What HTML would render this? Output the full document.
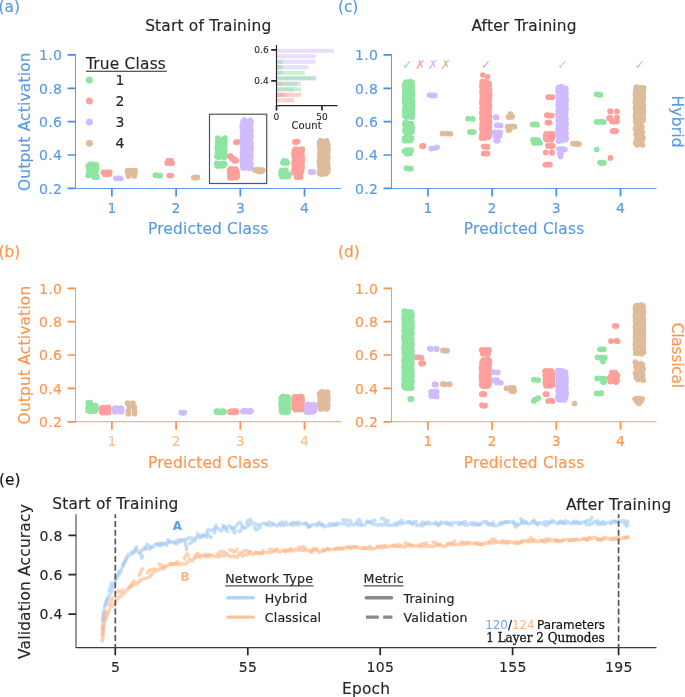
<!DOCTYPE html><html><head><meta charset="utf-8"><title>Figure</title><style>html,body{margin:0;padding:0;background:#fff}svg{display:block}text{font-family:'DejaVu Sans', 'Liberation Sans', sans-serif}</style></head><body>
<svg width="685" height="697" viewBox="0 0 685 697">
<rect width="685" height="697" fill="#fff"/>
<g stroke="#4A90E2" fill="none">
<path d="M75.5 54.3V188.4H341" stroke-width="1.05" stroke="#5E9DE7"/>
<path d="M67.5 54.9H75.5M67.5 88.3H75.5M67.5 121.6H75.5M67.5 155H75.5M67.5 188.4H75.5M111.9 188.4V196.4M176.1 188.4V196.4M240.3 188.4V196.4M304.5 188.4V196.4" stroke-width="1.7"/>
</g>
<text x="62.2" y="60.1" font-size="14" fill="#5899E6" stroke="#5899E6" stroke-width="0.14" letter-spacing="0.3" text-anchor="end" >1.0</text>
<text x="62.2" y="93.5" font-size="14" fill="#5899E6" stroke="#5899E6" stroke-width="0.14" letter-spacing="0.3" text-anchor="end" >0.8</text>
<text x="62.2" y="126.8" font-size="14" fill="#5899E6" stroke="#5899E6" stroke-width="0.14" letter-spacing="0.3" text-anchor="end" >0.6</text>
<text x="62.2" y="160.2" font-size="14" fill="#5899E6" stroke="#5899E6" stroke-width="0.14" letter-spacing="0.3" text-anchor="end" >0.4</text>
<text x="62.2" y="193.6" font-size="14" fill="#5899E6" stroke="#5899E6" stroke-width="0.14" letter-spacing="0.3" text-anchor="end" >0.2</text>
<g opacity="1">
<text x="112.1" y="212.5" font-size="14" fill="#5899E6" stroke="#5899E6" stroke-width="0.14" letter-spacing="0.3" text-anchor="middle" >1</text>
<text x="176.2" y="212.5" font-size="14" fill="#5899E6" stroke="#5899E6" stroke-width="0.14" letter-spacing="0.3" text-anchor="middle" >2</text>
<text x="240.5" y="212.5" font-size="14" fill="#5899E6" stroke="#5899E6" stroke-width="0.14" letter-spacing="0.3" text-anchor="middle" >3</text>
<text x="304.6" y="212.5" font-size="14" fill="#5899E6" stroke="#5899E6" stroke-width="0.14" letter-spacing="0.3" text-anchor="middle" >4</text>
</g>
<text x="208.3" y="234.4" font-size="15.4" fill="#5899E6" stroke="#5899E6" stroke-width="0.14" letter-spacing="0.2" text-anchor="middle" >Predicted Class</text>
<text transform="translate(29.5 121.7) rotate(-90)" font-size="15.4" fill="#5899E6" stroke="#5899E6" stroke-width="0.14" letter-spacing="0.2" text-anchor="middle">Output Activation</text>
<g stroke="#4A90E2" fill="none">
<path d="M391.5 54.3V188.4H656.5" stroke-width="1.05" stroke="#5E9DE7"/>
<path d="M383.5 54.9H391.5M383.5 88.3H391.5M383.5 121.6H391.5M383.5 155H391.5M383.5 188.4H391.5M427.9 188.4V196.4M492.1 188.4V196.4M556.3 188.4V196.4M620.5 188.4V196.4" stroke-width="1.7"/>
</g>
<text x="378.2" y="60.1" font-size="14" fill="#5899E6" stroke="#5899E6" stroke-width="0.14" letter-spacing="0.3" text-anchor="end" >1.0</text>
<text x="378.2" y="93.5" font-size="14" fill="#5899E6" stroke="#5899E6" stroke-width="0.14" letter-spacing="0.3" text-anchor="end" >0.8</text>
<text x="378.2" y="126.8" font-size="14" fill="#5899E6" stroke="#5899E6" stroke-width="0.14" letter-spacing="0.3" text-anchor="end" >0.6</text>
<text x="378.2" y="160.2" font-size="14" fill="#5899E6" stroke="#5899E6" stroke-width="0.14" letter-spacing="0.3" text-anchor="end" >0.4</text>
<text x="378.2" y="193.6" font-size="14" fill="#5899E6" stroke="#5899E6" stroke-width="0.14" letter-spacing="0.3" text-anchor="end" >0.2</text>
<g opacity="1">
<text x="428" y="212.5" font-size="14" fill="#5899E6" stroke="#5899E6" stroke-width="0.14" letter-spacing="0.3" text-anchor="middle" >1</text>
<text x="492.2" y="212.5" font-size="14" fill="#5899E6" stroke="#5899E6" stroke-width="0.14" letter-spacing="0.3" text-anchor="middle" >2</text>
<text x="556.4" y="212.5" font-size="14" fill="#5899E6" stroke="#5899E6" stroke-width="0.14" letter-spacing="0.3" text-anchor="middle" >3</text>
<text x="620.6" y="212.5" font-size="14" fill="#5899E6" stroke="#5899E6" stroke-width="0.14" letter-spacing="0.3" text-anchor="middle" >4</text>
</g>
<text x="524.1" y="234.4" font-size="15.4" fill="#5899E6" stroke="#5899E6" stroke-width="0.14" letter-spacing="0.2" text-anchor="middle" >Predicted Class</text>
<g stroke="#FF8F45" fill="none">
<path d="M75.5 287.7V421.7H341" stroke-width="1.05" stroke="#FF9D5E"/>
<path d="M67.5 288.3H75.5M67.5 321.7H75.5M67.5 355H75.5M67.5 388.4H75.5M67.5 421.8H75.5M111.9 421.7V429.7M176.1 421.7V429.7M240.3 421.7V429.7M304.5 421.7V429.7" stroke-width="1.7"/>
</g>
<text x="62.2" y="293.5" font-size="14" fill="#FF944D" stroke="#FF944D" stroke-width="0.14" letter-spacing="0.3" text-anchor="end" >1.0</text>
<text x="62.2" y="326.9" font-size="14" fill="#FF944D" stroke="#FF944D" stroke-width="0.14" letter-spacing="0.3" text-anchor="end" >0.8</text>
<text x="62.2" y="360.2" font-size="14" fill="#FF944D" stroke="#FF944D" stroke-width="0.14" letter-spacing="0.3" text-anchor="end" >0.6</text>
<text x="62.2" y="393.6" font-size="14" fill="#FF944D" stroke="#FF944D" stroke-width="0.14" letter-spacing="0.3" text-anchor="end" >0.4</text>
<text x="62.2" y="427" font-size="14" fill="#FF944D" stroke="#FF944D" stroke-width="0.14" letter-spacing="0.3" text-anchor="end" >0.2</text>
<g opacity="0.62">
<text x="112.1" y="445.8" font-size="14" fill="#FF944D" stroke="#FF944D" stroke-width="0.14" letter-spacing="0.3" text-anchor="middle" >1</text>
<text x="176.2" y="445.8" font-size="14" fill="#FF944D" stroke="#FF944D" stroke-width="0.14" letter-spacing="0.3" text-anchor="middle" >2</text>
<text x="240.5" y="445.8" font-size="14" fill="#FF944D" stroke="#FF944D" stroke-width="0.14" letter-spacing="0.3" text-anchor="middle" >3</text>
<text x="304.6" y="445.8" font-size="14" fill="#FF944D" stroke="#FF944D" stroke-width="0.14" letter-spacing="0.3" text-anchor="middle" >4</text>
</g>
<text x="208.3" y="467.7" font-size="15.4" fill="#FF944D" stroke="#FF944D" stroke-width="0.14" letter-spacing="0.2" text-anchor="middle" >Predicted Class</text>
<text transform="translate(29.5 355) rotate(-90)" font-size="15.4" fill="#FF944D" stroke="#FF944D" stroke-width="0.14" letter-spacing="0.2" text-anchor="middle">Output Activation</text>
<g stroke="#FF8F45" fill="none">
<path d="M391.5 287.7V421.7H656.5" stroke-width="1.05" stroke="#FF9D5E"/>
<path d="M383.5 288.3H391.5M383.5 321.7H391.5M383.5 355H391.5M383.5 388.4H391.5M383.5 421.8H391.5M427.9 421.7V429.7M492.1 421.7V429.7M556.3 421.7V429.7M620.5 421.7V429.7" stroke-width="1.7"/>
</g>
<text x="378.2" y="293.5" font-size="14" fill="#FF944D" stroke="#FF944D" stroke-width="0.14" letter-spacing="0.3" text-anchor="end" >1.0</text>
<text x="378.2" y="326.9" font-size="14" fill="#FF944D" stroke="#FF944D" stroke-width="0.14" letter-spacing="0.3" text-anchor="end" >0.8</text>
<text x="378.2" y="360.2" font-size="14" fill="#FF944D" stroke="#FF944D" stroke-width="0.14" letter-spacing="0.3" text-anchor="end" >0.6</text>
<text x="378.2" y="393.6" font-size="14" fill="#FF944D" stroke="#FF944D" stroke-width="0.14" letter-spacing="0.3" text-anchor="end" >0.4</text>
<text x="378.2" y="427" font-size="14" fill="#FF944D" stroke="#FF944D" stroke-width="0.14" letter-spacing="0.3" text-anchor="end" >0.2</text>
<g opacity="1">
<text x="428" y="445.8" font-size="14" fill="#FF944D" stroke="#FF944D" stroke-width="0.14" letter-spacing="0.3" text-anchor="middle" >1</text>
<text x="492.2" y="445.8" font-size="14" fill="#FF944D" stroke="#FF944D" stroke-width="0.14" letter-spacing="0.3" text-anchor="middle" >2</text>
<text x="556.4" y="445.8" font-size="14" fill="#FF944D" stroke="#FF944D" stroke-width="0.14" letter-spacing="0.3" text-anchor="middle" >3</text>
<text x="620.6" y="445.8" font-size="14" fill="#FF944D" stroke="#FF944D" stroke-width="0.14" letter-spacing="0.3" text-anchor="middle" >4</text>
</g>
<text x="524.1" y="467.7" font-size="15.4" fill="#FF944D" stroke="#FF944D" stroke-width="0.14" letter-spacing="0.2" text-anchor="middle" >Predicted Class</text>
<text x="-1.5" y="11.8" font-size="15.4" fill="#5899E6" stroke="#5899E6" stroke-width="0.14" letter-spacing="0" text-anchor="start" >(a)</text>
<text x="337.9" y="12" font-size="15.4" fill="#5899E6" stroke="#5899E6" stroke-width="0.14" letter-spacing="0" text-anchor="start" >(c)</text>
<text x="-1.5" y="256.8" font-size="15.4" fill="#FF944D" stroke="#FF944D" stroke-width="0.14" letter-spacing="0" text-anchor="start" >(b)</text>
<text x="337.9" y="256.8" font-size="15.4" fill="#FF944D" stroke="#FF944D" stroke-width="0.14" letter-spacing="0" text-anchor="start" >(d)</text>
<text x="-1" y="485.3" font-size="15.4" fill="#111" stroke="#111" stroke-width="0.14" letter-spacing="0" text-anchor="start" >(e)</text>
<text x="208.3" y="30.6" font-size="15.4" fill="#262626" stroke="#262626" stroke-width="0.14" letter-spacing="0.2" text-anchor="middle" >Start of Training</text>
<text x="524.1" y="30.6" font-size="15.4" fill="#262626" stroke="#262626" stroke-width="0.14" letter-spacing="0.2" text-anchor="middle" >After Training</text>
<text transform="translate(671.8 121.6) rotate(90)" font-size="15.4" fill="#5899E6" stroke="#5899E6" stroke-width="0.14" letter-spacing="0.2" text-anchor="middle">Hybrid</text>
<text transform="translate(671.8 355.3) rotate(90)" font-size="15.4" fill="#FF944D" stroke="#FF944D" stroke-width="0.14" letter-spacing="-0.2" text-anchor="middle">Classical</text>
<text x="86" y="68.8" font-size="15.4" fill="#262626" stroke="#262626" stroke-width="0.14" letter-spacing="0.2" text-anchor="start" >True Class</text>
<path d="M86 71.2H166.8" stroke="#262626" stroke-width="1.1"/>
<circle cx="89.4" cy="79.9" r="3.5" fill="#8de5a1"/>
<text x="120" y="85.1" font-size="14" fill="#262626" stroke="#262626" stroke-width="0.14" letter-spacing="0.3" text-anchor="middle" >1</text>
<circle cx="89.4" cy="101" r="3.5" fill="#ff9f9b"/>
<text x="120" y="106.2" font-size="14" fill="#262626" stroke="#262626" stroke-width="0.14" letter-spacing="0.3" text-anchor="middle" >2</text>
<circle cx="89.4" cy="122.1" r="3.5" fill="#d0bbff"/>
<text x="120" y="127.3" font-size="14" fill="#262626" stroke="#262626" stroke-width="0.14" letter-spacing="0.3" text-anchor="middle" >3</text>
<circle cx="89.4" cy="143.2" r="3.5" fill="#debb9b"/>
<text x="120" y="148.4" font-size="14" fill="#262626" stroke="#262626" stroke-width="0.14" letter-spacing="0.3" text-anchor="middle" >4</text>
<rect x="209.5" y="114.2" width="57.2" height="69.3" fill="none" stroke="#555" stroke-width="1.2"/>
<rect x="277.1" y="48.8" width="56.8" height="4" fill="#d0bbff" fill-opacity="0.5"/>
<rect x="277.1" y="54.3" width="38.6" height="4" fill="#d0bbff" fill-opacity="0.5"/>
<rect x="277.1" y="59.8" width="38.6" height="4" fill="#d0bbff" fill-opacity="0.5"/>
<rect x="277.1" y="59.8" width="5.9" height="4" fill="#8de5a1" fill-opacity="0.5"/>
<rect x="277.1" y="65.3" width="31.3" height="4" fill="#d0bbff" fill-opacity="0.5"/>
<rect x="277.1" y="65.3" width="5.9" height="4" fill="#8de5a1" fill-opacity="0.5"/>
<rect x="277.1" y="65.3" width="3" height="4" fill="#debb9b" fill-opacity="0.5"/>
<rect x="277.1" y="70.8" width="5.9" height="4" fill="#d0bbff" fill-opacity="0.5"/>
<rect x="277.1" y="70.8" width="27.7" height="4" fill="#8de5a1" fill-opacity="0.5"/>
<rect x="277.1" y="76.3" width="38.6" height="4" fill="#d0bbff" fill-opacity="0.5"/>
<rect x="277.1" y="76.3" width="38.6" height="4" fill="#8de5a1" fill-opacity="0.5"/>
<rect x="277.1" y="81.8" width="24" height="4" fill="#d0bbff" fill-opacity="0.5"/>
<rect x="277.1" y="81.8" width="20.7" height="4" fill="#8de5a1" fill-opacity="0.5"/>
<rect x="277.1" y="81.8" width="5.9" height="4" fill="#debb9b" fill-opacity="0.5"/>
<rect x="277.1" y="87.3" width="16.9" height="4" fill="#d0bbff" fill-opacity="0.5"/>
<rect x="277.1" y="87.3" width="24" height="4" fill="#8de5a1" fill-opacity="0.5"/>
<rect x="277.1" y="92.8" width="5.9" height="4" fill="#d0bbff" fill-opacity="0.5"/>
<rect x="277.1" y="92.8" width="9.9" height="4" fill="#debb9b" fill-opacity="0.5"/>
<rect x="277.1" y="92.8" width="24" height="4" fill="#ff9f9b" fill-opacity="0.5"/>
<rect x="277.1" y="98.3" width="16.9" height="4" fill="#ff9f9b" fill-opacity="0.5"/>
<g stroke="#262626" fill="none"><path d="M276.5 45V105.6H337.5" stroke-width="1.15"/><path d="M271.2 49.8H276.5M271.2 80.9H276.5M276.5 105.6V110.5M322 105.6V110.5" stroke-width="1.7"/></g>
<text x="268.9" y="53.1" font-size="9" fill="#262626" stroke="#262626" stroke-width="0.1" letter-spacing="0.12" text-anchor="end" >0.6</text>
<text x="268.9" y="84.2" font-size="9" fill="#262626" stroke="#262626" stroke-width="0.1" letter-spacing="0.12" text-anchor="end" >0.4</text>
<text x="276.4" y="119.7" font-size="9" fill="#262626" stroke="#262626" stroke-width="0.1" letter-spacing="0.12" text-anchor="middle" >0</text>
<text x="322.1" y="119.7" font-size="9" fill="#262626" stroke="#262626" stroke-width="0.1" letter-spacing="0.12" text-anchor="middle" >50</text>
<text x="306.6" y="129" font-size="10" fill="#262626" stroke="#262626" stroke-width="0.1" letter-spacing="0.12" text-anchor="middle" >Count</text>
<g fill="#8de5a1">
<circle cx="90.6" cy="164.2" r="2.85"/><circle cx="96.2" cy="164.8" r="2.85"/><circle cx="93.2" cy="164.5" r="2.85"/><circle cx="89.4" cy="165.3" r="2.85"/><circle cx="95.2" cy="165.4" r="2.85"/><circle cx="91.4" cy="165.4" r="2.85"/><circle cx="88.4" cy="166.2" r="2.85"/><circle cx="94" cy="166" r="2.85"/><circle cx="90.1" cy="166.7" r="2.85"/><circle cx="95.8" cy="166.6" r="2.85"/><circle cx="92.5" cy="167" r="2.85"/><circle cx="89" cy="167.6" r="2.85"/><circle cx="94.7" cy="168.3" r="2.85"/><circle cx="90.9" cy="167.9" r="2.85"/><circle cx="96.4" cy="168.3" r="2.85"/><circle cx="93.5" cy="169" r="2.85"/><circle cx="89.7" cy="169.7" r="2.85"/><circle cx="95.4" cy="169.6" r="2.85"/><circle cx="91.7" cy="169.7" r="2.85"/><circle cx="88.7" cy="170.6" r="2.85"/><circle cx="94.3" cy="170" r="2.85"/><circle cx="90.4" cy="171.1" r="2.85"/><circle cx="96.1" cy="170.9" r="2.85"/><circle cx="92.9" cy="171" r="2.85"/><circle cx="89.3" cy="171.3" r="2.85"/><circle cx="95" cy="171.8" r="2.85"/><circle cx="88.1" cy="175.4" r="2.85"/><circle cx="89.7" cy="175" r="2.85"/><circle cx="95.8" cy="176.1" r="2.85"/><circle cx="94.3" cy="176" r="2.85"/><circle cx="96.5" cy="176.4" r="2.85"/><circle cx="95.1" cy="176.1" r="2.85"/><circle cx="93.9" cy="176.3" r="2.85"/><circle cx="96.1" cy="176.6" r="2.85"/><circle cx="94.6" cy="177.2" r="2.85"/><circle cx="96.8" cy="177.2" r="2.85"/><circle cx="155.5" cy="175.2" r="2.85"/><circle cx="157.8" cy="175.6" r="2.85"/><circle cx="160.1" cy="175.7" r="2.85"/><circle cx="222.6" cy="139.3" r="2.85"/><circle cx="218.9" cy="140.2" r="2.85"/><circle cx="224.3" cy="140.5" r="2.85"/><circle cx="221.3" cy="141.3" r="2.85"/><circle cx="217.9" cy="141.5" r="2.85"/><circle cx="223.3" cy="141.4" r="2.85"/><circle cx="219.7" cy="141.9" r="2.85"/><circle cx="224.9" cy="142.6" r="2.85"/><circle cx="222.2" cy="142.3" r="2.85"/><circle cx="218.5" cy="143.2" r="2.85"/><circle cx="224" cy="143.3" r="2.85"/><circle cx="220.5" cy="143.6" r="2.85"/><circle cx="217.5" cy="144" r="2.85"/><circle cx="222.9" cy="145.1" r="2.85"/><circle cx="219.2" cy="144.9" r="2.85"/><circle cx="224.6" cy="145.4" r="2.85"/><circle cx="221.7" cy="146" r="2.85"/><circle cx="218.1" cy="146.8" r="2.85"/><circle cx="223.6" cy="146.5" r="2.85"/><circle cx="220" cy="147.2" r="2.85"/><circle cx="217.2" cy="147.7" r="2.85"/><circle cx="222.5" cy="148.5" r="2.85"/><circle cx="218.8" cy="148.8" r="2.85"/><circle cx="224.2" cy="149.3" r="2.85"/><circle cx="220.9" cy="149.1" r="2.85"/><circle cx="217.8" cy="149.6" r="2.85"/><circle cx="223.2" cy="150" r="2.85"/><circle cx="219.5" cy="150.9" r="2.85"/><circle cx="224.8" cy="151.4" r="2.85"/><circle cx="222" cy="151" r="2.85"/><circle cx="218.4" cy="151.4" r="2.85"/><circle cx="223.8" cy="151.9" r="2.85"/><circle cx="220.3" cy="152.3" r="2.85"/><circle cx="217.4" cy="153" r="2.85"/><circle cx="222.7" cy="153.5" r="2.85"/><circle cx="219" cy="153.5" r="2.85"/><circle cx="224.4" cy="153.7" r="2.85"/><circle cx="221.4" cy="154.5" r="2.85"/><circle cx="218" cy="154.9" r="2.85"/><circle cx="223.4" cy="155.5" r="2.85"/><circle cx="219.8" cy="156.3" r="2.85"/><circle cx="217" cy="156.4" r="2.85"/><circle cx="222.3" cy="156.6" r="2.85"/><circle cx="218.6" cy="157.2" r="2.85"/><circle cx="224.1" cy="157.6" r="2.85"/><circle cx="217.8" cy="138" r="2.85"/><circle cx="225" cy="138" r="2.85"/><circle cx="216.7" cy="163.3" r="2.85"/><circle cx="219.3" cy="163.8" r="2.85"/><circle cx="222" cy="163.8" r="2.85"/><circle cx="224.7" cy="163.8" r="2.85"/><circle cx="217.3" cy="166" r="2.85"/><circle cx="219.4" cy="165.7" r="2.85"/><circle cx="221.6" cy="165.7" r="2.85"/><circle cx="223.7" cy="165.6" r="2.85"/><circle cx="282.9" cy="162.6" r="2.85"/><circle cx="285" cy="162.9" r="2.85"/><circle cx="287.1" cy="162.9" r="2.85"/><circle cx="283.9" cy="160.8" r="2.85"/><circle cx="286.1" cy="161.2" r="2.85"/><circle cx="285.7" cy="170.2" r="2.85"/><circle cx="284" cy="170.9" r="2.85"/><circle cx="281.8" cy="170.6" r="2.85"/><circle cx="285.1" cy="170.9" r="2.85"/><circle cx="283" cy="171.6" r="2.85"/><circle cx="281.2" cy="171.7" r="2.85"/><circle cx="284.4" cy="171.3" r="2.85"/><circle cx="282.2" cy="171.7" r="2.85"/><circle cx="285.5" cy="172.1" r="2.85"/><circle cx="281.1" cy="174.5" r="2.85"/><circle cx="283.1" cy="174.4" r="2.85"/><circle cx="285" cy="174.5" r="2.85"/><circle cx="287" cy="174.7" r="2.85"/><circle cx="289" cy="174.3" r="2.85"/><circle cx="281.9" cy="176.6" r="2.85"/><circle cx="283.9" cy="176.6" r="2.85"/><circle cx="286.1" cy="176.3" r="2.85"/><circle cx="288.1" cy="176.5" r="2.85"/>
</g>
<g fill="#ff9f9b">
<circle cx="103.3" cy="172.3" r="2.85"/><circle cx="105.5" cy="172.5" r="2.85"/><circle cx="107.5" cy="172.4" r="2.85"/><circle cx="109.7" cy="172.3" r="2.85"/><circle cx="104.8" cy="174.4" r="2.85"/><circle cx="107" cy="174.3" r="2.85"/><circle cx="109.2" cy="174" r="2.85"/><circle cx="168.3" cy="160.6" r="2.85"/><circle cx="171.2" cy="160.8" r="2.85"/><circle cx="167.2" cy="162.9" r="2.85"/><circle cx="169.7" cy="163.1" r="2.85"/><circle cx="172.1" cy="163.1" r="2.85"/><circle cx="169.3" cy="175.5" r="2.85"/><circle cx="171.2" cy="175.5" r="2.85"/><circle cx="235.8" cy="142.3" r="2.85"/><circle cx="237.7" cy="141.9" r="2.85"/><circle cx="229.8" cy="156.2" r="2.85"/><circle cx="230.7" cy="156.3" r="2.85"/><circle cx="231.8" cy="158.8" r="2.85"/><circle cx="234.2" cy="158.9" r="2.85"/><circle cx="234.3" cy="160.7" r="2.85"/><circle cx="236.2" cy="160.7" r="2.85"/><circle cx="230.5" cy="168.8" r="2.85"/><circle cx="235.8" cy="169.1" r="2.85"/><circle cx="232.2" cy="169" r="2.85"/><circle cx="229.5" cy="170.2" r="2.85"/><circle cx="234.7" cy="170.2" r="2.85"/><circle cx="231.1" cy="170" r="2.85"/><circle cx="236.4" cy="170.5" r="2.85"/><circle cx="233.1" cy="170.8" r="2.85"/><circle cx="230.1" cy="171.2" r="2.85"/><circle cx="235.4" cy="171.2" r="2.85"/><circle cx="231.8" cy="172.2" r="2.85"/><circle cx="237" cy="172.7" r="2.85"/><circle cx="234.2" cy="172.5" r="2.85"/><circle cx="230.7" cy="172.8" r="2.85"/><circle cx="236" cy="172.7" r="2.85"/><circle cx="232.5" cy="173" r="2.85"/><circle cx="229.8" cy="173.5" r="2.85"/><circle cx="235" cy="173.8" r="2.85"/><circle cx="231.3" cy="174.6" r="2.85"/><circle cx="236.6" cy="174.3" r="2.85"/><circle cx="233.6" cy="174.4" r="2.85"/><circle cx="230.3" cy="175.7" r="2.85"/><circle cx="235.6" cy="175.5" r="2.85"/><circle cx="232" cy="175.4" r="2.85"/><circle cx="237.2" cy="176.1" r="2.85"/><circle cx="234.5" cy="175.9" r="2.85"/><circle cx="230.9" cy="176.7" r="2.85"/><circle cx="236.3" cy="177.5" r="2.85"/><circle cx="232.8" cy="177.7" r="2.85"/><circle cx="230" cy="177.8" r="2.85"/><circle cx="294.9" cy="141.9" r="2.85"/><circle cx="296.2" cy="141.8" r="2.85"/><circle cx="297.6" cy="141.5" r="2.85"/><circle cx="302.2" cy="149.2" r="2.85"/><circle cx="299.3" cy="149.7" r="2.85"/><circle cx="295.5" cy="149.2" r="2.85"/><circle cx="301.2" cy="149.7" r="2.85"/><circle cx="297.5" cy="149.8" r="2.85"/><circle cx="294.4" cy="150.8" r="2.85"/><circle cx="300.1" cy="150.6" r="2.85"/><circle cx="296.2" cy="150.8" r="2.85"/><circle cx="301.8" cy="151.4" r="2.85"/><circle cx="298.7" cy="152.3" r="2.85"/><circle cx="295.1" cy="152.5" r="2.85"/><circle cx="300.8" cy="152.2" r="2.85"/><circle cx="297" cy="152.5" r="2.85"/><circle cx="294" cy="153.6" r="2.85"/><circle cx="299.6" cy="153.5" r="2.85"/><circle cx="295.7" cy="154" r="2.85"/><circle cx="301.4" cy="153.7" r="2.85"/><circle cx="297.9" cy="154" r="2.85"/><circle cx="294.7" cy="155" r="2.85"/><circle cx="300.3" cy="155" r="2.85"/><circle cx="296.5" cy="155" r="2.85"/><circle cx="302.1" cy="156.2" r="2.85"/><circle cx="299.1" cy="156.2" r="2.85"/><circle cx="295.3" cy="156.7" r="2.85"/><circle cx="301" cy="156.3" r="2.85"/><circle cx="297.3" cy="157.4" r="2.85"/><circle cx="294.3" cy="156.9" r="2.85"/><circle cx="299.9" cy="158.1" r="2.85"/><circle cx="296" cy="158" r="2.85"/><circle cx="301.7" cy="158.2" r="2.85"/><circle cx="298.5" cy="158.7" r="2.85"/><circle cx="294.9" cy="159.4" r="2.85"/><circle cx="300.6" cy="159.1" r="2.85"/><circle cx="296.8" cy="159.3" r="2.85"/><circle cx="302.3" cy="160" r="2.85"/><circle cx="299.4" cy="160" r="2.85"/><circle cx="295.6" cy="160.2" r="2.85"/><circle cx="301.3" cy="160.6" r="2.85"/><circle cx="297.7" cy="160.8" r="2.85"/><circle cx="294.5" cy="161.3" r="2.85"/><circle cx="300.2" cy="161.7" r="2.85"/><circle cx="296.3" cy="162.1" r="2.85"/><circle cx="301.9" cy="162.8" r="2.85"/><circle cx="298.9" cy="162.7" r="2.85"/><circle cx="295.2" cy="163.2" r="2.85"/><circle cx="300.9" cy="163.2" r="2.85"/><circle cx="297.1" cy="163.7" r="2.85"/><circle cx="294.1" cy="163.7" r="2.85"/><circle cx="299.7" cy="164.3" r="2.85"/><circle cx="295.8" cy="164.4" r="2.85"/><circle cx="301.5" cy="165.4" r="2.85"/><circle cx="298.2" cy="165.6" r="2.85"/><circle cx="294.7" cy="165.5" r="2.85"/><circle cx="300.4" cy="166.1" r="2.85"/><circle cx="296.6" cy="166.9" r="2.85"/><circle cx="302.1" cy="166.4" r="2.85"/><circle cx="299.2" cy="167.5" r="2.85"/><circle cx="295.4" cy="167.4" r="2.85"/><circle cx="301.1" cy="167.8" r="2.85"/><circle cx="297.4" cy="168.4" r="2.85"/><circle cx="294.4" cy="168.3" r="2.85"/><circle cx="300" cy="168.8" r="2.85"/><circle cx="296.1" cy="169.3" r="2.85"/><circle cx="301.8" cy="169.9" r="2.85"/><circle cx="298.6" cy="169.6" r="2.85"/><circle cx="295" cy="170.4" r="2.85"/><circle cx="300.7" cy="170.6" r="2.85"/><circle cx="296.9" cy="170.8" r="2.85"/><circle cx="294" cy="170.9" r="2.85"/><circle cx="299.5" cy="171.2" r="2.85"/><circle cx="295.7" cy="171.2" r="2.85"/><circle cx="301.4" cy="171.6" r="2.85"/><circle cx="297.8" cy="171.9" r="2.85"/><circle cx="294.6" cy="172.9" r="2.85"/><circle cx="300.3" cy="172.7" r="2.85"/><circle cx="297.3" cy="176.8" r="2.85"/><circle cx="300.7" cy="176.8" r="2.85"/><circle cx="298.4" cy="176.8" r="2.85"/><circle cx="296.7" cy="176.8" r="2.85"/><circle cx="300" cy="176.8" r="2.85"/>
</g>
<g fill="#d0bbff">
<circle cx="116" cy="178.3" r="2.85"/><circle cx="118.4" cy="178.3" r="2.85"/><circle cx="120.8" cy="178.5" r="2.85"/><circle cx="244.2" cy="120.2" r="2.85"/><circle cx="250.3" cy="120.4" r="2.85"/><circle cx="246.6" cy="121.4" r="2.85"/><circle cx="243.1" cy="121.5" r="2.85"/><circle cx="249.1" cy="122.1" r="2.85"/><circle cx="245" cy="122" r="2.85"/><circle cx="251" cy="122.3" r="2.85"/><circle cx="247.8" cy="123.3" r="2.85"/><circle cx="243.8" cy="123.8" r="2.85"/><circle cx="249.9" cy="124.1" r="2.85"/><circle cx="245.9" cy="124.4" r="2.85"/><circle cx="242.6" cy="124.8" r="2.85"/><circle cx="248.7" cy="125.1" r="2.85"/><circle cx="244.5" cy="124.9" r="2.85"/><circle cx="250.6" cy="125.6" r="2.85"/><circle cx="247.2" cy="125.8" r="2.85"/><circle cx="243.3" cy="125.8" r="2.85"/><circle cx="249.4" cy="126.2" r="2.85"/><circle cx="245.3" cy="126.8" r="2.85"/><circle cx="242.2" cy="127.2" r="2.85"/><circle cx="248.2" cy="128" r="2.85"/><circle cx="244" cy="128.6" r="2.85"/><circle cx="250.1" cy="128.5" r="2.85"/><circle cx="246.3" cy="129.4" r="2.85"/><circle cx="242.9" cy="129.8" r="2.85"/><circle cx="249" cy="130.1" r="2.85"/><circle cx="244.8" cy="129.9" r="2.85"/><circle cx="250.8" cy="130.2" r="2.85"/><circle cx="247.6" cy="130.5" r="2.85"/><circle cx="243.6" cy="130.9" r="2.85"/><circle cx="249.7" cy="131.3" r="2.85"/><circle cx="245.7" cy="132.1" r="2.85"/><circle cx="242.5" cy="132.7" r="2.85"/><circle cx="248.5" cy="133" r="2.85"/><circle cx="244.3" cy="133" r="2.85"/><circle cx="250.4" cy="133.6" r="2.85"/><circle cx="246.9" cy="134.1" r="2.85"/><circle cx="243.2" cy="133.8" r="2.85"/><circle cx="249.3" cy="134.7" r="2.85"/><circle cx="245.1" cy="135.3" r="2.85"/><circle cx="251.1" cy="135.6" r="2.85"/><circle cx="247.9" cy="135.9" r="2.85"/><circle cx="243.9" cy="136" r="2.85"/><circle cx="250" cy="136.1" r="2.85"/><circle cx="246" cy="137.1" r="2.85"/><circle cx="242.7" cy="137" r="2.85"/><circle cx="248.8" cy="137.8" r="2.85"/><circle cx="244.6" cy="138.4" r="2.85"/><circle cx="250.7" cy="138.2" r="2.85"/><circle cx="247.4" cy="138.6" r="2.85"/><circle cx="243.4" cy="139.5" r="2.85"/><circle cx="249.5" cy="139.6" r="2.85"/><circle cx="245.4" cy="139.4" r="2.85"/><circle cx="242.3" cy="139.8" r="2.85"/><circle cx="248.3" cy="140.2" r="2.85"/><circle cx="244.1" cy="141.3" r="2.85"/><circle cx="250.2" cy="141.6" r="2.85"/><circle cx="246.5" cy="141.3" r="2.85"/><circle cx="243" cy="142.3" r="2.85"/><circle cx="249.1" cy="142.9" r="2.85"/><circle cx="244.9" cy="142.9" r="2.85"/><circle cx="250.9" cy="143" r="2.85"/><circle cx="247.7" cy="143.6" r="2.85"/><circle cx="243.7" cy="143.5" r="2.85"/><circle cx="249.8" cy="143.8" r="2.85"/><circle cx="245.8" cy="145.1" r="2.85"/><circle cx="242.6" cy="145.2" r="2.85"/><circle cx="248.6" cy="145.4" r="2.85"/><circle cx="244.4" cy="146.2" r="2.85"/><circle cx="250.5" cy="146.1" r="2.85"/><circle cx="247.1" cy="146.9" r="2.85"/><circle cx="243.3" cy="147.2" r="2.85"/><circle cx="249.4" cy="147" r="2.85"/><circle cx="245.2" cy="147.4" r="2.85"/><circle cx="251.2" cy="147.8" r="2.85"/><circle cx="248.1" cy="148.1" r="2.85"/><circle cx="244" cy="148.8" r="2.85"/><circle cx="250.1" cy="148.9" r="2.85"/><circle cx="246.2" cy="149.4" r="2.85"/><circle cx="242.8" cy="149.5" r="2.85"/><circle cx="248.9" cy="150.7" r="2.85"/><circle cx="244.7" cy="150.5" r="2.85"/><circle cx="250.8" cy="151" r="2.85"/><circle cx="247.5" cy="151.4" r="2.85"/><circle cx="243.5" cy="152.1" r="2.85"/><circle cx="249.6" cy="152" r="2.85"/><circle cx="245.6" cy="152.9" r="2.85"/><circle cx="242.4" cy="152.9" r="2.85"/><circle cx="248.4" cy="153.3" r="2.85"/><circle cx="244.2" cy="153.6" r="2.85"/><circle cx="250.3" cy="153.5" r="2.85"/><circle cx="246.8" cy="154.3" r="2.85"/><circle cx="243.1" cy="154.4" r="2.85"/><circle cx="249.2" cy="154.6" r="2.85"/><circle cx="245" cy="155.8" r="2.85"/><circle cx="251" cy="155.5" r="2.85"/><circle cx="247.9" cy="156.2" r="2.85"/><circle cx="243.8" cy="156.8" r="2.85"/><circle cx="249.9" cy="157" r="2.85"/><circle cx="245.9" cy="157.2" r="2.85"/><circle cx="242.7" cy="157.7" r="2.85"/><circle cx="248.7" cy="158.2" r="2.85"/><circle cx="244.5" cy="158.8" r="2.85"/><circle cx="250.6" cy="158.4" r="2.85"/><circle cx="247.3" cy="159.3" r="2.85"/><circle cx="243.4" cy="159.3" r="2.85"/><circle cx="249.5" cy="159.7" r="2.85"/><circle cx="245.4" cy="160.6" r="2.85"/><circle cx="242.3" cy="160.7" r="2.85"/><circle cx="248.2" cy="161.1" r="2.85"/><circle cx="244.1" cy="161.7" r="2.85"/><circle cx="250.2" cy="162.2" r="2.85"/><circle cx="246.4" cy="162.2" r="2.85"/><circle cx="242.9" cy="162.7" r="2.85"/><circle cx="249" cy="163" r="2.85"/><circle cx="244.8" cy="163.3" r="2.85"/><circle cx="250.9" cy="163.9" r="2.85"/><circle cx="247.6" cy="164" r="2.85"/><circle cx="243.6" cy="164.5" r="2.85"/><circle cx="249.7" cy="164.8" r="2.85"/><circle cx="245.7" cy="165.6" r="2.85"/><circle cx="242.5" cy="165.8" r="2.85"/><circle cx="248.5" cy="166.3" r="2.85"/><circle cx="244.4" cy="166.8" r="2.85"/><circle cx="250.4" cy="166.5" r="2.85"/><circle cx="247" cy="167.1" r="2.85"/><circle cx="243.2" cy="167.9" r="2.85"/><circle cx="249.3" cy="168.2" r="2.85"/><circle cx="245.2" cy="167.8" r="2.85"/><circle cx="251.1" cy="168.2" r="2.85"/><circle cx="310.7" cy="171.8" r="2.85"/><circle cx="312.1" cy="171.9" r="2.85"/><circle cx="313.5" cy="172" r="2.85"/>
</g>
<g fill="#debb9b">
<circle cx="127.4" cy="170.9" r="2.85"/><circle cx="130" cy="170.7" r="2.85"/><circle cx="132.5" cy="171.1" r="2.85"/><circle cx="135.1" cy="170.6" r="2.85"/><circle cx="128.3" cy="173.2" r="2.85"/><circle cx="130.4" cy="173.4" r="2.85"/><circle cx="132.6" cy="173" r="2.85"/><circle cx="134.7" cy="173.2" r="2.85"/><circle cx="128.4" cy="176" r="2.85"/><circle cx="134.3" cy="176" r="2.85"/><circle cx="128.8" cy="172" r="2.85"/><circle cx="193.8" cy="177.6" r="2.85"/><circle cx="195.6" cy="177.7" r="2.85"/><circle cx="197.2" cy="177.4" r="2.85"/><circle cx="255.2" cy="170.2" r="2.85"/><circle cx="257.1" cy="169.9" r="2.85"/><circle cx="259" cy="170" r="2.85"/><circle cx="260.9" cy="169.9" r="2.85"/><circle cx="262.8" cy="170.3" r="2.85"/><circle cx="258.9" cy="171.4" r="2.85"/><circle cx="261.1" cy="171.4" r="2.85"/><circle cx="320.6" cy="140.7" r="2.85"/><circle cx="326.5" cy="140.8" r="2.85"/><circle cx="322.6" cy="141.9" r="2.85"/><circle cx="319.6" cy="142.3" r="2.85"/><circle cx="325.3" cy="142.2" r="2.85"/><circle cx="321.3" cy="142.2" r="2.85"/><circle cx="327.1" cy="143.3" r="2.85"/><circle cx="323.5" cy="143" r="2.85"/><circle cx="320.2" cy="143.4" r="2.85"/><circle cx="326" cy="143.4" r="2.85"/><circle cx="322.1" cy="144.1" r="2.85"/><circle cx="327.8" cy="144.6" r="2.85"/><circle cx="324.7" cy="145" r="2.85"/><circle cx="320.9" cy="145" r="2.85"/><circle cx="326.7" cy="145.7" r="2.85"/><circle cx="322.9" cy="145.5" r="2.85"/><circle cx="319.8" cy="146.1" r="2.85"/><circle cx="325.6" cy="146.3" r="2.85"/><circle cx="321.6" cy="147" r="2.85"/><circle cx="327.4" cy="147" r="2.85"/><circle cx="324.1" cy="147.3" r="2.85"/><circle cx="320.5" cy="148" r="2.85"/><circle cx="326.3" cy="148.2" r="2.85"/><circle cx="322.4" cy="148.9" r="2.85"/><circle cx="328" cy="149.2" r="2.85"/><circle cx="325.1" cy="149.8" r="2.85"/><circle cx="321.1" cy="150.1" r="2.85"/><circle cx="327" cy="150.5" r="2.85"/><circle cx="323.3" cy="151" r="2.85"/><circle cx="320.1" cy="150.9" r="2.85"/><circle cx="325.9" cy="151.2" r="2.85"/><circle cx="321.9" cy="152.2" r="2.85"/><circle cx="327.6" cy="151.7" r="2.85"/><circle cx="324.5" cy="152.6" r="2.85"/><circle cx="320.7" cy="152.9" r="2.85"/><circle cx="326.6" cy="152.6" r="2.85"/><circle cx="322.7" cy="153.8" r="2.85"/><circle cx="319.7" cy="154.2" r="2.85"/><circle cx="325.4" cy="154.3" r="2.85"/><circle cx="321.4" cy="154.8" r="2.85"/><circle cx="327.2" cy="155.2" r="2.85"/><circle cx="323.7" cy="154.9" r="2.85"/><circle cx="320.3" cy="155.6" r="2.85"/><circle cx="326.1" cy="155.9" r="2.85"/><circle cx="322.2" cy="156.6" r="2.85"/><circle cx="327.9" cy="156.9" r="2.85"/><circle cx="324.9" cy="157.3" r="2.85"/><circle cx="321" cy="157.4" r="2.85"/><circle cx="326.8" cy="158.1" r="2.85"/><circle cx="323" cy="158.2" r="2.85"/><circle cx="319.9" cy="158.6" r="2.85"/><circle cx="325.7" cy="158.5" r="2.85"/><circle cx="321.7" cy="158.6" r="2.85"/><circle cx="327.5" cy="159.1" r="2.85"/><circle cx="324.3" cy="159.7" r="2.85"/><circle cx="320.6" cy="159.8" r="2.85"/><circle cx="326.4" cy="160.9" r="2.85"/><circle cx="322.5" cy="160.9" r="2.85"/><circle cx="319.5" cy="161.4" r="2.85"/><circle cx="325.2" cy="161.7" r="2.85"/><circle cx="321.2" cy="162.1" r="2.85"/><circle cx="327.1" cy="162.3" r="2.85"/><circle cx="323.4" cy="162.2" r="2.85"/><circle cx="320.2" cy="163.3" r="2.85"/><circle cx="326" cy="163.6" r="2.85"/><circle cx="322" cy="163.7" r="2.85"/><circle cx="327.7" cy="164.1" r="2.85"/><circle cx="324.6" cy="164.6" r="2.85"/><circle cx="320.8" cy="164.3" r="2.85"/><circle cx="326.7" cy="165.4" r="2.85"/><circle cx="322.8" cy="165.2" r="2.85"/><circle cx="319.8" cy="165.4" r="2.85"/><circle cx="325.5" cy="166" r="2.85"/><circle cx="321.5" cy="166.8" r="2.85"/><circle cx="327.3" cy="166.6" r="2.85"/><circle cx="324" cy="167.5" r="2.85"/><circle cx="320.4" cy="168.1" r="2.85"/><circle cx="326.2" cy="168" r="2.85"/><circle cx="322.3" cy="168.2" r="2.85"/><circle cx="328" cy="168.6" r="2.85"/><circle cx="325" cy="169.2" r="2.85"/><circle cx="321.1" cy="169.6" r="2.85"/><circle cx="326.9" cy="169.8" r="2.85"/><circle cx="323.2" cy="170.2" r="2.85"/><circle cx="320" cy="170" r="2.85"/><circle cx="325.8" cy="170.4" r="2.85"/><circle cx="321.8" cy="170.9" r="2.85"/><circle cx="327.6" cy="171.7" r="2.85"/><circle cx="324.4" cy="171.7" r="2.85"/><circle cx="320.7" cy="172.3" r="2.85"/><circle cx="326.5" cy="172.1" r="2.85"/><circle cx="322.6" cy="172.5" r="2.85"/><circle cx="319.6" cy="173" r="2.85"/><circle cx="325.3" cy="173.8" r="2.85"/><circle cx="321.4" cy="174.2" r="2.85"/>
</g>
<text x="407.5" y="68.8" font-size="12.6" fill="#8de5a1" stroke="#8de5a1" stroke-width="0" letter-spacing="0.2" text-anchor="middle" font-style="italic">✓</text>
<text x="420.5" y="68.8" font-size="12.6" fill="#ff9f9b" stroke="#ff9f9b" stroke-width="0" letter-spacing="0.2" text-anchor="middle" font-style="italic">✗</text>
<text x="433.2" y="68.8" font-size="12.6" fill="#d0bbff" stroke="#d0bbff" stroke-width="0" letter-spacing="0.2" text-anchor="middle" font-style="italic">✗</text>
<text x="445.8" y="68.8" font-size="12.6" fill="#debb9b" stroke="#debb9b" stroke-width="0" letter-spacing="0.2" text-anchor="middle" font-style="italic">✗</text>
<text x="486.2" y="68.8" font-size="12.6" fill="#ff9f9b" stroke="#ff9f9b" stroke-width="0" letter-spacing="0.2" text-anchor="middle" font-style="italic">✓</text>
<text x="562.6" y="68.8" font-size="12.6" fill="#d0bbff" stroke="#d0bbff" stroke-width="0" letter-spacing="0.2" text-anchor="middle" font-style="italic">✓</text>
<text x="639.9" y="68.8" font-size="12.6" fill="#debb9b" stroke="#debb9b" stroke-width="0" letter-spacing="0.2" text-anchor="middle" font-style="italic">✓</text>
<g fill="#8de5a1">
<circle cx="410.4" cy="81.5" r="2.85"/><circle cx="406.6" cy="82.2" r="2.85"/><circle cx="412.1" cy="82.5" r="2.85"/><circle cx="409" cy="82.9" r="2.85"/><circle cx="405.5" cy="82.9" r="2.85"/><circle cx="411.1" cy="84.1" r="2.85"/><circle cx="407.3" cy="83.8" r="2.85"/><circle cx="404.5" cy="85" r="2.85"/><circle cx="409.9" cy="85.3" r="2.85"/><circle cx="406.2" cy="84.8" r="2.85"/><circle cx="411.7" cy="85.6" r="2.85"/><circle cx="408.2" cy="86.4" r="2.85"/><circle cx="405.1" cy="86.9" r="2.85"/><circle cx="410.6" cy="86.8" r="2.85"/><circle cx="406.9" cy="87" r="2.85"/><circle cx="412.3" cy="87.3" r="2.85"/><circle cx="409.4" cy="88.5" r="2.85"/><circle cx="405.7" cy="88.1" r="2.85"/><circle cx="411.3" cy="88.9" r="2.85"/><circle cx="407.6" cy="88.8" r="2.85"/><circle cx="404.7" cy="89.6" r="2.85"/><circle cx="410.2" cy="90.4" r="2.85"/><circle cx="406.4" cy="90" r="2.85"/><circle cx="412" cy="91.1" r="2.85"/><circle cx="408.8" cy="91.2" r="2.85"/><circle cx="405.4" cy="91.9" r="2.85"/><circle cx="410.9" cy="92.2" r="2.85"/><circle cx="407.1" cy="92.1" r="2.85"/><circle cx="412.6" cy="93.1" r="2.85"/><circle cx="409.7" cy="93.1" r="2.85"/><circle cx="406" cy="93" r="2.85"/><circle cx="411.6" cy="93.4" r="2.85"/><circle cx="408" cy="94.3" r="2.85"/><circle cx="405" cy="94.6" r="2.85"/><circle cx="410.5" cy="94.9" r="2.85"/><circle cx="406.7" cy="95.1" r="2.85"/><circle cx="412.2" cy="95.7" r="2.85"/><circle cx="409.2" cy="96.1" r="2.85"/><circle cx="405.6" cy="97" r="2.85"/><circle cx="411.2" cy="96.6" r="2.85"/><circle cx="407.4" cy="97.7" r="2.85"/><circle cx="404.6" cy="98.2" r="2.85"/><circle cx="410" cy="97.8" r="2.85"/><circle cx="406.3" cy="99" r="2.85"/><circle cx="411.8" cy="99.2" r="2.85"/><circle cx="408.4" cy="99.8" r="2.85"/><circle cx="405.2" cy="99.6" r="2.85"/><circle cx="410.8" cy="100.1" r="2.85"/><circle cx="407" cy="100.5" r="2.85"/><circle cx="412.4" cy="101.5" r="2.85"/><circle cx="409.5" cy="101.5" r="2.85"/><circle cx="405.8" cy="101.6" r="2.85"/><circle cx="411.4" cy="102.1" r="2.85"/><circle cx="407.8" cy="102.3" r="2.85"/><circle cx="404.8" cy="102.5" r="2.85"/><circle cx="410.3" cy="102.9" r="2.85"/><circle cx="406.5" cy="104.1" r="2.85"/><circle cx="412.1" cy="103.9" r="2.85"/><circle cx="408.9" cy="104.9" r="2.85"/><circle cx="405.4" cy="104.6" r="2.85"/><circle cx="411" cy="105.1" r="2.85"/><circle cx="407.3" cy="105.7" r="2.85"/><circle cx="412.7" cy="105.8" r="2.85"/><circle cx="409.8" cy="106.3" r="2.85"/><circle cx="406.1" cy="107.3" r="2.85"/><circle cx="411.7" cy="107.6" r="2.85"/><circle cx="408.1" cy="108" r="2.85"/><circle cx="405.1" cy="108.2" r="2.85"/><circle cx="410.6" cy="108.8" r="2.85"/><circle cx="406.8" cy="109.3" r="2.85"/><circle cx="412.3" cy="109.3" r="2.85"/><circle cx="409.3" cy="109.8" r="2.85"/><circle cx="405.7" cy="109.5" r="2.85"/><circle cx="411.3" cy="110.6" r="2.85"/><circle cx="407.6" cy="110.7" r="2.85"/><circle cx="404.7" cy="111.4" r="2.85"/><circle cx="410.1" cy="111.7" r="2.85"/><circle cx="406.4" cy="111.7" r="2.85"/><circle cx="411.9" cy="111.9" r="2.85"/><circle cx="408.6" cy="113.2" r="2.85"/><circle cx="405.3" cy="112.8" r="2.85"/><circle cx="410.9" cy="113.5" r="2.85"/><circle cx="407.1" cy="113.8" r="2.85"/><circle cx="412.5" cy="114.1" r="2.85"/><circle cx="409.6" cy="114.9" r="2.85"/><circle cx="405.9" cy="115.6" r="2.85"/><circle cx="411.5" cy="115.3" r="2.85"/><circle cx="407.9" cy="116" r="2.85"/><circle cx="404.9" cy="116.1" r="2.85"/><circle cx="410.4" cy="116.7" r="2.85"/><circle cx="406.6" cy="117" r="2.85"/><circle cx="412.1" cy="117.1" r="2.85"/><circle cx="405.7" cy="122.3" r="2.85"/><circle cx="411.1" cy="123.5" r="2.85"/><circle cx="407.5" cy="123.5" r="2.85"/><circle cx="404.7" cy="123.7" r="2.85"/><circle cx="410" cy="124.9" r="2.85"/><circle cx="406.3" cy="125.4" r="2.85"/><circle cx="411.7" cy="125.4" r="2.85"/><circle cx="408.4" cy="125.5" r="2.85"/><circle cx="405.3" cy="126" r="2.85"/><circle cx="410.7" cy="126.4" r="2.85"/><circle cx="407" cy="127.1" r="2.85"/><circle cx="412.3" cy="127.4" r="2.85"/><circle cx="409.5" cy="128" r="2.85"/><circle cx="405.9" cy="128.5" r="2.85"/><circle cx="411.4" cy="129.2" r="2.85"/><circle cx="407.8" cy="130" r="2.85"/><circle cx="404.9" cy="130.4" r="2.85"/><circle cx="410.3" cy="130.5" r="2.85"/><circle cx="406.6" cy="131" r="2.85"/><circle cx="412" cy="131.6" r="2.85"/><circle cx="408.9" cy="131.9" r="2.85"/><circle cx="405.5" cy="132.3" r="2.85"/><circle cx="411" cy="132.5" r="2.85"/><circle cx="407.3" cy="133.2" r="2.85"/><circle cx="404.4" cy="138.3" r="2.85"/><circle cx="406.8" cy="137.8" r="2.85"/><circle cx="409.2" cy="138" r="2.85"/><circle cx="411.6" cy="138.1" r="2.85"/><circle cx="404.9" cy="140.7" r="2.85"/><circle cx="407.8" cy="140.3" r="2.85"/><circle cx="410.6" cy="140.4" r="2.85"/><circle cx="404.4" cy="151.3" r="2.85"/><circle cx="406.1" cy="151.4" r="2.85"/><circle cx="406.9" cy="150" r="2.85"/><circle cx="409" cy="150.3" r="2.85"/><circle cx="411.1" cy="150.2" r="2.85"/><circle cx="406.9" cy="153.7" r="2.85"/><circle cx="410.1" cy="153.2" r="2.85"/><circle cx="406.4" cy="168.2" r="2.85"/><circle cx="408.6" cy="168.6" r="2.85"/><circle cx="410.8" cy="168.7" r="2.85"/><circle cx="468.1" cy="118.7" r="2.85"/><circle cx="472.8" cy="118.9" r="2.85"/><circle cx="470" cy="132" r="2.85"/><circle cx="471.9" cy="132" r="2.85"/><circle cx="473.8" cy="132.1" r="2.85"/><circle cx="532.6" cy="124.4" r="2.85"/><circle cx="534.8" cy="124.4" r="2.85"/><circle cx="536.9" cy="124.7" r="2.85"/><circle cx="533.1" cy="139.9" r="2.85"/><circle cx="534.8" cy="140.3" r="2.85"/><circle cx="536.5" cy="140.2" r="2.85"/><circle cx="538.1" cy="140.3" r="2.85"/><circle cx="533.9" cy="142.9" r="2.85"/><circle cx="537" cy="142.8" r="2.85"/><circle cx="540.1" cy="142.8" r="2.85"/><circle cx="596.8" cy="94.3" r="2.85"/><circle cx="598.6" cy="94.7" r="2.85"/><circle cx="600.5" cy="94.8" r="2.85"/><circle cx="596.8" cy="121.9" r="2.85"/><circle cx="599.1" cy="122" r="2.85"/><circle cx="601.4" cy="121.6" r="2.85"/><circle cx="603.8" cy="122.1" r="2.85"/><circle cx="596.7" cy="149.5" r="2.85"/><circle cx="600" cy="162.6" r="2.85"/><circle cx="601.9" cy="162.9" r="2.85"/><circle cx="603.8" cy="162.8" r="2.85"/>
</g>
<g fill="#ff9f9b">
<circle cx="422" cy="146.1" r="2.85"/><circle cx="422.7" cy="146.2" r="2.85"/><circle cx="423.4" cy="145.8" r="2.85"/><circle cx="482.8" cy="75" r="2.85"/><circle cx="487.5" cy="76.8" r="2.85"/><circle cx="485.1" cy="81.6" r="2.85"/><circle cx="482.1" cy="81.6" r="2.85"/><circle cx="487.6" cy="82.8" r="2.85"/><circle cx="483.8" cy="82.8" r="2.85"/><circle cx="489.3" cy="83.9" r="2.85"/><circle cx="486.3" cy="84.1" r="2.85"/><circle cx="482.7" cy="84.3" r="2.85"/><circle cx="488.3" cy="84.6" r="2.85"/><circle cx="484.6" cy="85.2" r="2.85"/><circle cx="481.7" cy="86" r="2.85"/><circle cx="487.2" cy="86.6" r="2.85"/><circle cx="483.4" cy="86.4" r="2.85"/><circle cx="488.9" cy="86.9" r="2.85"/><circle cx="485.5" cy="87.8" r="2.85"/><circle cx="482.3" cy="88.3" r="2.85"/><circle cx="487.9" cy="88.6" r="2.85"/><circle cx="484.1" cy="88.9" r="2.85"/><circle cx="489.6" cy="89.8" r="2.85"/><circle cx="486.7" cy="89.7" r="2.85"/><circle cx="483" cy="90.4" r="2.85"/><circle cx="488.6" cy="91.1" r="2.85"/><circle cx="484.9" cy="92.1" r="2.85"/><circle cx="482" cy="92.2" r="2.85"/><circle cx="487.4" cy="92.9" r="2.85"/><circle cx="483.7" cy="93" r="2.85"/><circle cx="489.2" cy="93.2" r="2.85"/><circle cx="486.1" cy="93.7" r="2.85"/><circle cx="482.6" cy="94.9" r="2.85"/><circle cx="488.1" cy="95.1" r="2.85"/><circle cx="484.4" cy="95.2" r="2.85"/><circle cx="489.8" cy="95.4" r="2.85"/><circle cx="487" cy="96.4" r="2.85"/><circle cx="483.2" cy="97" r="2.85"/><circle cx="488.8" cy="97.2" r="2.85"/><circle cx="485.3" cy="97.6" r="2.85"/><circle cx="482.2" cy="98.4" r="2.85"/><circle cx="487.7" cy="99.2" r="2.85"/><circle cx="483.9" cy="99" r="2.85"/><circle cx="489.4" cy="99.2" r="2.85"/><circle cx="486.5" cy="100" r="2.85"/><circle cx="482.8" cy="100.6" r="2.85"/><circle cx="488.4" cy="101.3" r="2.85"/><circle cx="484.7" cy="101.3" r="2.85"/><circle cx="481.8" cy="102.4" r="2.85"/><circle cx="487.3" cy="102.8" r="2.85"/><circle cx="483.5" cy="103" r="2.85"/><circle cx="489" cy="103.2" r="2.85"/><circle cx="485.8" cy="104.5" r="2.85"/><circle cx="482.4" cy="104.3" r="2.85"/><circle cx="488" cy="105.3" r="2.85"/><circle cx="484.2" cy="105.2" r="2.85"/><circle cx="489.6" cy="105.6" r="2.85"/><circle cx="486.8" cy="106.6" r="2.85"/><circle cx="483.1" cy="106.6" r="2.85"/><circle cx="488.6" cy="107.8" r="2.85"/><circle cx="485" cy="107.8" r="2.85"/><circle cx="482" cy="108" r="2.85"/><circle cx="487.6" cy="108.5" r="2.85"/><circle cx="483.8" cy="109.2" r="2.85"/><circle cx="489.3" cy="109.9" r="2.85"/><circle cx="486.2" cy="110.6" r="2.85"/><circle cx="482.7" cy="110.3" r="2.85"/><circle cx="488.2" cy="111" r="2.85"/><circle cx="484.5" cy="111.3" r="2.85"/><circle cx="481.7" cy="112.6" r="2.85"/><circle cx="487.1" cy="112.2" r="2.85"/><circle cx="483.3" cy="112.6" r="2.85"/><circle cx="488.9" cy="113.1" r="2.85"/><circle cx="485.4" cy="113.9" r="2.85"/><circle cx="482.3" cy="114.9" r="2.85"/><circle cx="487.8" cy="115.3" r="2.85"/><circle cx="484" cy="115.7" r="2.85"/><circle cx="489.5" cy="116.4" r="2.85"/><circle cx="486.6" cy="116.8" r="2.85"/><circle cx="482.9" cy="116.7" r="2.85"/><circle cx="488.5" cy="117" r="2.85"/><circle cx="484.8" cy="118.3" r="2.85"/><circle cx="481.9" cy="118.5" r="2.85"/><circle cx="487.4" cy="118.3" r="2.85"/><circle cx="483.6" cy="119.4" r="2.85"/><circle cx="489.1" cy="119.6" r="2.85"/><circle cx="486" cy="120.1" r="2.85"/><circle cx="482.5" cy="120.5" r="2.85"/><circle cx="488.1" cy="120.8" r="2.85"/><circle cx="484.3" cy="121.1" r="2.85"/><circle cx="489.7" cy="121.9" r="2.85"/><circle cx="486.9" cy="122.4" r="2.85"/><circle cx="483.2" cy="123.5" r="2.85"/><circle cx="488.7" cy="123.2" r="2.85"/><circle cx="485.2" cy="124.5" r="2.85"/><circle cx="482.1" cy="124.2" r="2.85"/><circle cx="487.7" cy="124.8" r="2.85"/><circle cx="483.9" cy="125.8" r="2.85"/><circle cx="489.4" cy="126.2" r="2.85"/><circle cx="486.4" cy="126.3" r="2.85"/><circle cx="482.8" cy="126.4" r="2.85"/><circle cx="488.3" cy="127.3" r="2.85"/><circle cx="484.6" cy="127.7" r="2.85"/><circle cx="481.8" cy="128.7" r="2.85"/><circle cx="487.2" cy="128.5" r="2.85"/><circle cx="483.4" cy="129.1" r="2.85"/><circle cx="489" cy="130.1" r="2.85"/><circle cx="485.6" cy="129.7" r="2.85"/><circle cx="482.4" cy="130.6" r="2.85"/><circle cx="487.9" cy="131.5" r="2.85"/><circle cx="484.1" cy="131.9" r="2.85"/><circle cx="489.6" cy="131.7" r="2.85"/><circle cx="486.7" cy="132.1" r="2.85"/><circle cx="483" cy="132.6" r="2.85"/><circle cx="488.6" cy="134" r="2.85"/><circle cx="485" cy="133.8" r="2.85"/><circle cx="482" cy="134.7" r="2.85"/><circle cx="487.5" cy="135.4" r="2.85"/><circle cx="483.7" cy="135.3" r="2.85"/><circle cx="489.2" cy="135.7" r="2.85"/><circle cx="486.1" cy="136.9" r="2.85"/><circle cx="482.6" cy="137" r="2.85"/><circle cx="488.2" cy="137.1" r="2.85"/><circle cx="484.4" cy="138.1" r="2.85"/><circle cx="481.6" cy="138.1" r="2.85"/><circle cx="483.7" cy="146.6" r="2.85"/><circle cx="485.6" cy="146.4" r="2.85"/><circle cx="487.6" cy="146.9" r="2.85"/><circle cx="483.7" cy="153.5" r="2.85"/><circle cx="485.6" cy="153.4" r="2.85"/><circle cx="487.6" cy="153.6" r="2.85"/><circle cx="548.1" cy="97.1" r="2.85"/><circle cx="550.3" cy="97.2" r="2.85"/><circle cx="552.5" cy="97.1" r="2.85"/><circle cx="546.9" cy="115.2" r="2.85"/><circle cx="548.5" cy="115.4" r="2.85"/><circle cx="550.2" cy="115.5" r="2.85"/><circle cx="551.9" cy="115.5" r="2.85"/><circle cx="547.4" cy="122.5" r="2.85"/><circle cx="548.5" cy="122.6" r="2.85"/><circle cx="549.6" cy="122.5" r="2.85"/><circle cx="546.3" cy="133.8" r="2.85"/><circle cx="551.4" cy="133.6" r="2.85"/><circle cx="547.9" cy="134.1" r="2.85"/><circle cx="552.9" cy="134.2" r="2.85"/><circle cx="550.3" cy="134.8" r="2.85"/><circle cx="546.9" cy="134.5" r="2.85"/><circle cx="551.9" cy="134.9" r="2.85"/><circle cx="548.7" cy="135.1" r="2.85"/><circle cx="546" cy="135.3" r="2.85"/><circle cx="551" cy="136.3" r="2.85"/><circle cx="547.5" cy="136.3" r="2.85"/><circle cx="552.5" cy="136.3" r="2.85"/><circle cx="549.8" cy="136.6" r="2.85"/><circle cx="546.6" cy="137.5" r="2.85"/><circle cx="551.6" cy="137.3" r="2.85"/><circle cx="548.2" cy="137.3" r="2.85"/><circle cx="545.7" cy="138.1" r="2.85"/><circle cx="550.5" cy="138.2" r="2.85"/><circle cx="547.1" cy="138.9" r="2.85"/><circle cx="552.2" cy="138.2" r="2.85"/><circle cx="549" cy="138.9" r="2.85"/><circle cx="546.2" cy="139.5" r="2.85"/><circle cx="551.2" cy="139.8" r="2.85"/><circle cx="547.8" cy="139.8" r="2.85"/><circle cx="547.9" cy="145.8" r="2.85"/><circle cx="549.5" cy="146" r="2.85"/><circle cx="551.2" cy="145.9" r="2.85"/><circle cx="552.9" cy="145.9" r="2.85"/><circle cx="545.8" cy="152.4" r="2.85"/><circle cx="551.9" cy="152.7" r="2.85"/><circle cx="552.1" cy="152.4" r="2.85"/><circle cx="545.4" cy="164.8" r="2.85"/><circle cx="547.7" cy="164.4" r="2.85"/><circle cx="550" cy="164.7" r="2.85"/><circle cx="610.1" cy="111.2" r="2.85"/><circle cx="610.6" cy="111.6" r="2.85"/><circle cx="617" cy="111.4" r="2.85"/><circle cx="609.1" cy="118.3" r="2.85"/><circle cx="610.1" cy="117.7" r="2.85"/><circle cx="617" cy="117.5" r="2.85"/><circle cx="611.9" cy="121.4" r="2.85"/><circle cx="614.5" cy="121.7" r="2.85"/><circle cx="617" cy="121.3" r="2.85"/><circle cx="612.6" cy="131.1" r="2.85"/><circle cx="614.4" cy="130.8" r="2.85"/><circle cx="616.1" cy="131.1" r="2.85"/><circle cx="610.4" cy="157.9" r="2.85"/>
</g>
<g fill="#d0bbff">
<circle cx="429.6" cy="95.1" r="2.85"/><circle cx="431.3" cy="95.5" r="2.85"/><circle cx="433.1" cy="95.4" r="2.85"/><circle cx="434.8" cy="95.4" r="2.85"/><circle cx="431.3" cy="148.6" r="2.85"/><circle cx="435.4" cy="147.8" r="2.85"/><circle cx="437.1" cy="147.3" r="2.85"/><circle cx="495.6" cy="117.3" r="2.85"/><circle cx="496.5" cy="117.4" r="2.85"/><circle cx="496.9" cy="125.2" r="2.85"/><circle cx="498.8" cy="125.5" r="2.85"/><circle cx="500.8" cy="125.5" r="2.85"/><circle cx="494.7" cy="132.4" r="2.85"/><circle cx="496.6" cy="132.4" r="2.85"/><circle cx="498.4" cy="132.5" r="2.85"/><circle cx="500.3" cy="132.5" r="2.85"/><circle cx="495.4" cy="135.8" r="2.85"/><circle cx="497.5" cy="135.3" r="2.85"/><circle cx="499.6" cy="135.7" r="2.85"/><circle cx="496.2" cy="140.5" r="2.85"/><circle cx="497.1" cy="140.6" r="2.85"/><circle cx="498" cy="140.6" r="2.85"/><circle cx="561.4" cy="86.6" r="2.85"/><circle cx="558.4" cy="87.6" r="2.85"/><circle cx="564" cy="88.2" r="2.85"/><circle cx="560.1" cy="87.8" r="2.85"/><circle cx="565.8" cy="88.7" r="2.85"/><circle cx="562.6" cy="89.2" r="2.85"/><circle cx="559" cy="89.2" r="2.85"/><circle cx="564.7" cy="89.8" r="2.85"/><circle cx="560.9" cy="90" r="2.85"/><circle cx="558" cy="90.5" r="2.85"/><circle cx="563.5" cy="91" r="2.85"/><circle cx="559.7" cy="91.8" r="2.85"/><circle cx="565.4" cy="92.3" r="2.85"/><circle cx="561.8" cy="92.3" r="2.85"/><circle cx="558.6" cy="92.5" r="2.85"/><circle cx="564.3" cy="93.3" r="2.85"/><circle cx="560.4" cy="94" r="2.85"/><circle cx="566" cy="94" r="2.85"/><circle cx="563" cy="94.6" r="2.85"/><circle cx="559.2" cy="94.9" r="2.85"/><circle cx="565" cy="95.9" r="2.85"/><circle cx="561.2" cy="96.1" r="2.85"/><circle cx="558.2" cy="96.1" r="2.85"/><circle cx="563.8" cy="96.5" r="2.85"/><circle cx="559.9" cy="97.3" r="2.85"/><circle cx="565.6" cy="97.9" r="2.85"/><circle cx="562.4" cy="98.4" r="2.85"/><circle cx="558.8" cy="98.3" r="2.85"/><circle cx="564.5" cy="98.8" r="2.85"/><circle cx="560.7" cy="99.8" r="2.85"/><circle cx="566.2" cy="99.9" r="2.85"/><circle cx="563.3" cy="100.2" r="2.85"/><circle cx="559.5" cy="100.7" r="2.85"/><circle cx="565.2" cy="101.8" r="2.85"/><circle cx="561.6" cy="101.6" r="2.85"/><circle cx="558.4" cy="102.3" r="2.85"/><circle cx="564.1" cy="102.5" r="2.85"/><circle cx="560.2" cy="103" r="2.85"/><circle cx="565.9" cy="103.9" r="2.85"/><circle cx="562.8" cy="104.4" r="2.85"/><circle cx="559.1" cy="104.2" r="2.85"/><circle cx="564.8" cy="104.5" r="2.85"/><circle cx="561" cy="105.5" r="2.85"/><circle cx="558.1" cy="105.4" r="2.85"/><circle cx="563.6" cy="105.6" r="2.85"/><circle cx="559.8" cy="107" r="2.85"/><circle cx="565.5" cy="106.9" r="2.85"/><circle cx="562" cy="107.8" r="2.85"/><circle cx="558.7" cy="107.8" r="2.85"/><circle cx="564.4" cy="108.7" r="2.85"/><circle cx="560.5" cy="108.7" r="2.85"/><circle cx="566.1" cy="108.8" r="2.85"/><circle cx="563.1" cy="109.1" r="2.85"/><circle cx="559.3" cy="110.1" r="2.85"/><circle cx="565.1" cy="110.6" r="2.85"/><circle cx="561.3" cy="111.3" r="2.85"/><circle cx="558.3" cy="111" r="2.85"/><circle cx="563.9" cy="111.9" r="2.85"/><circle cx="560" cy="112.1" r="2.85"/><circle cx="565.7" cy="112.7" r="2.85"/><circle cx="562.6" cy="112.8" r="2.85"/><circle cx="558.9" cy="113.3" r="2.85"/><circle cx="564.6" cy="114" r="2.85"/><circle cx="560.8" cy="114.9" r="2.85"/><circle cx="557.9" cy="114.5" r="2.85"/><circle cx="563.5" cy="115.3" r="2.85"/><circle cx="559.6" cy="116.1" r="2.85"/><circle cx="565.3" cy="116.7" r="2.85"/><circle cx="561.7" cy="116.3" r="2.85"/><circle cx="558.5" cy="116.7" r="2.85"/><circle cx="564.2" cy="117.9" r="2.85"/><circle cx="560.3" cy="118.4" r="2.85"/><circle cx="565.9" cy="118.4" r="2.85"/><circle cx="562.9" cy="118.4" r="2.85"/><circle cx="559.2" cy="119.7" r="2.85"/><circle cx="564.9" cy="119.6" r="2.85"/><circle cx="561.1" cy="120.5" r="2.85"/><circle cx="558.2" cy="120.7" r="2.85"/><circle cx="563.8" cy="121.3" r="2.85"/><circle cx="559.9" cy="121.1" r="2.85"/><circle cx="565.6" cy="122.2" r="2.85"/><circle cx="562.3" cy="122" r="2.85"/><circle cx="558.8" cy="122.7" r="2.85"/><circle cx="564.5" cy="123.5" r="2.85"/><circle cx="560.6" cy="124" r="2.85"/><circle cx="566.2" cy="123.7" r="2.85"/><circle cx="563.3" cy="124.2" r="2.85"/><circle cx="559.4" cy="124.8" r="2.85"/><circle cx="565.2" cy="125.4" r="2.85"/><circle cx="561.5" cy="125.7" r="2.85"/><circle cx="558.4" cy="125.9" r="2.85"/><circle cx="564" cy="126.4" r="2.85"/><circle cx="560.1" cy="127.4" r="2.85"/><circle cx="565.8" cy="128" r="2.85"/><circle cx="562.7" cy="127.5" r="2.85"/><circle cx="559" cy="128.5" r="2.85"/><circle cx="564.7" cy="129.1" r="2.85"/><circle cx="560.9" cy="128.9" r="2.85"/><circle cx="558" cy="130.1" r="2.85"/><circle cx="563.6" cy="129.8" r="2.85"/><circle cx="559.7" cy="130.7" r="2.85"/><circle cx="565.4" cy="131.1" r="2.85"/><circle cx="561.9" cy="131.6" r="2.85"/><circle cx="558.6" cy="131.7" r="2.85"/><circle cx="564.3" cy="132.3" r="2.85"/><circle cx="560.4" cy="132.9" r="2.85"/><circle cx="566" cy="133.2" r="2.85"/><circle cx="563.1" cy="133.9" r="2.85"/><circle cx="559.3" cy="134.1" r="2.85"/><circle cx="565" cy="134.5" r="2.85"/><circle cx="561.3" cy="134.5" r="2.85"/><circle cx="558.2" cy="135.6" r="2.85"/><circle cx="563.9" cy="135.9" r="2.85"/><circle cx="560" cy="136.1" r="2.85"/><circle cx="565.6" cy="137" r="2.85"/><circle cx="562.5" cy="137.5" r="2.85"/><circle cx="558.9" cy="137.6" r="2.85"/><circle cx="564.6" cy="137.7" r="2.85"/><circle cx="560.7" cy="138.5" r="2.85"/><circle cx="566.3" cy="138.6" r="2.85"/><circle cx="563.4" cy="139" r="2.85"/><circle cx="559.5" cy="139.7" r="2.85"/><circle cx="565.3" cy="139.8" r="2.85"/><circle cx="561.6" cy="140.6" r="2.85"/><circle cx="558.5" cy="141.1" r="2.85"/><circle cx="559.1" cy="149.2" r="2.85"/><circle cx="561" cy="149.6" r="2.85"/><circle cx="563" cy="149.2" r="2.85"/><circle cx="564.9" cy="149.6" r="2.85"/><circle cx="559.9" cy="153.7" r="2.85"/><circle cx="561.1" cy="153.5" r="2.85"/><circle cx="560.5" cy="156.5" r="2.85"/>
</g>
<g fill="#debb9b">
<circle cx="442.5" cy="133.6" r="2.85"/><circle cx="446.5" cy="133.6" r="2.85"/><circle cx="450.4" cy="133.8" r="2.85"/><circle cx="510.4" cy="114.2" r="2.85"/><circle cx="508.5" cy="116.9" r="2.85"/><circle cx="510.3" cy="116.7" r="2.85"/><circle cx="512.1" cy="116.7" r="2.85"/><circle cx="507.6" cy="126.6" r="2.85"/><circle cx="509.9" cy="126.9" r="2.85"/><circle cx="512.2" cy="126.4" r="2.85"/><circle cx="514.5" cy="126.5" r="2.85"/><circle cx="508.4" cy="130" r="2.85"/><circle cx="509.6" cy="129.6" r="2.85"/><circle cx="573.1" cy="143.5" r="2.85"/><circle cx="575" cy="143.8" r="2.85"/><circle cx="576.9" cy="143.7" r="2.85"/><circle cx="578.8" cy="144.1" r="2.85"/><circle cx="636.2" cy="87.1" r="2.85"/><circle cx="641.9" cy="87.9" r="2.85"/><circle cx="638.1" cy="87.6" r="2.85"/><circle cx="643.6" cy="88.1" r="2.85"/><circle cx="640.7" cy="88.7" r="2.85"/><circle cx="636.9" cy="89" r="2.85"/><circle cx="642.6" cy="89.1" r="2.85"/><circle cx="639" cy="89.6" r="2.85"/><circle cx="635.8" cy="90" r="2.85"/><circle cx="641.5" cy="91.2" r="2.85"/><circle cx="637.6" cy="91.4" r="2.85"/><circle cx="643.2" cy="92" r="2.85"/><circle cx="640.2" cy="91.7" r="2.85"/><circle cx="636.4" cy="92.7" r="2.85"/><circle cx="642.2" cy="92.5" r="2.85"/><circle cx="638.4" cy="93.3" r="2.85"/><circle cx="635.4" cy="93.8" r="2.85"/><circle cx="641" cy="94" r="2.85"/><circle cx="637.1" cy="94.9" r="2.85"/><circle cx="642.8" cy="95" r="2.85"/><circle cx="639.5" cy="95.4" r="2.85"/><circle cx="636" cy="96.2" r="2.85"/><circle cx="641.7" cy="95.8" r="2.85"/><circle cx="637.9" cy="97.1" r="2.85"/><circle cx="643.4" cy="97.2" r="2.85"/><circle cx="640.5" cy="97.3" r="2.85"/><circle cx="636.7" cy="98.2" r="2.85"/><circle cx="642.4" cy="98" r="2.85"/><circle cx="638.7" cy="99.2" r="2.85"/><circle cx="635.7" cy="99.2" r="2.85"/><circle cx="641.3" cy="99.4" r="2.85"/><circle cx="637.4" cy="100.2" r="2.85"/><circle cx="643.1" cy="100.3" r="2.85"/><circle cx="639.9" cy="100.4" r="2.85"/><circle cx="636.3" cy="101.4" r="2.85"/><circle cx="642" cy="101.1" r="2.85"/><circle cx="638.2" cy="102.3" r="2.85"/><circle cx="635.3" cy="102.2" r="2.85"/><circle cx="640.8" cy="103" r="2.85"/><circle cx="637" cy="103.7" r="2.85"/><circle cx="642.7" cy="103.8" r="2.85"/><circle cx="639.1" cy="104.2" r="2.85"/><circle cx="635.9" cy="104.3" r="2.85"/><circle cx="641.6" cy="104.4" r="2.85"/><circle cx="637.7" cy="104.9" r="2.85"/><circle cx="643.3" cy="105.4" r="2.85"/><circle cx="640.3" cy="106.3" r="2.85"/><circle cx="636.5" cy="106.5" r="2.85"/><circle cx="642.3" cy="107" r="2.85"/><circle cx="638.5" cy="107.8" r="2.85"/><circle cx="635.5" cy="107.5" r="2.85"/><circle cx="641.1" cy="108" r="2.85"/><circle cx="637.2" cy="108.8" r="2.85"/><circle cx="642.9" cy="108.6" r="2.85"/><circle cx="639.7" cy="109" r="2.85"/><circle cx="636.1" cy="109.8" r="2.85"/><circle cx="641.8" cy="109.9" r="2.85"/><circle cx="638" cy="110.6" r="2.85"/><circle cx="643.5" cy="110.9" r="2.85"/><circle cx="640.6" cy="111.6" r="2.85"/><circle cx="636.8" cy="112.1" r="2.85"/><circle cx="642.5" cy="112.1" r="2.85"/><circle cx="638.9" cy="112.9" r="2.85"/><circle cx="635.7" cy="113.2" r="2.85"/><circle cx="641.4" cy="113.3" r="2.85"/><circle cx="637.5" cy="114.5" r="2.85"/><circle cx="643.1" cy="114.2" r="2.85"/><circle cx="640.1" cy="114.5" r="2.85"/><circle cx="636.4" cy="114.9" r="2.85"/><circle cx="642.1" cy="115.9" r="2.85"/><circle cx="638.3" cy="116.5" r="2.85"/><circle cx="635.4" cy="116.8" r="2.85"/><circle cx="640.9" cy="116.9" r="2.85"/><circle cx="637.1" cy="117.1" r="2.85"/><circle cx="642.8" cy="117.3" r="2.85"/><circle cx="639.3" cy="118.3" r="2.85"/><circle cx="636" cy="118.7" r="2.85"/><circle cx="641.7" cy="118.9" r="2.85"/><circle cx="637.8" cy="119.6" r="2.85"/><circle cx="643.4" cy="119.8" r="2.85"/><circle cx="640.4" cy="120.7" r="2.85"/><circle cx="636.6" cy="120.9" r="2.85"/><circle cx="642.4" cy="120.9" r="2.85"/><circle cx="638.6" cy="121.9" r="2.85"/><circle cx="635.6" cy="121.5" r="2.85"/><circle cx="639.8" cy="125.3" r="2.85"/><circle cx="636.5" cy="126.1" r="2.85"/><circle cx="641.8" cy="126.9" r="2.85"/><circle cx="638.2" cy="128.7" r="2.85"/><circle cx="635.5" cy="128.9" r="2.85"/><circle cx="640.7" cy="130.5" r="2.85"/><circle cx="637.1" cy="131.9" r="2.85"/><circle cx="642.4" cy="132.1" r="2.85"/><circle cx="639.1" cy="133.1" r="2.85"/><circle cx="636.1" cy="134.5" r="2.85"/><circle cx="641.4" cy="135.5" r="2.85"/><circle cx="637.8" cy="136.6" r="2.85"/><circle cx="643" cy="137.8" r="2.85"/><circle cx="640.2" cy="138.2" r="2.85"/><circle cx="636.7" cy="139.3" r="2.85"/><circle cx="642" cy="140.3" r="2.85"/><circle cx="638.5" cy="141.1" r="2.85"/><circle cx="635.7" cy="142.9" r="2.85"/><circle cx="640.9" cy="143.8" r="2.85"/><circle cx="637.3" cy="144.8" r="2.85"/><circle cx="642.6" cy="145.1" r="2.85"/>
</g>
<g fill="#8de5a1">
<circle cx="95.1" cy="405.7" r="2.85"/><circle cx="91.6" cy="405.6" r="2.85"/><circle cx="88.6" cy="406" r="2.85"/><circle cx="94" cy="405.9" r="2.85"/><circle cx="90.3" cy="405.8" r="2.85"/><circle cx="95.7" cy="405.9" r="2.85"/><circle cx="92.8" cy="406.2" r="2.85"/><circle cx="89.2" cy="406.1" r="2.85"/><circle cx="94.7" cy="406.6" r="2.85"/><circle cx="91.1" cy="407.2" r="2.85"/><circle cx="88.3" cy="407.3" r="2.85"/><circle cx="93.6" cy="407.6" r="2.85"/><circle cx="89.9" cy="407.6" r="2.85"/><circle cx="95.3" cy="407.4" r="2.85"/><circle cx="92" cy="407.8" r="2.85"/><circle cx="88.9" cy="407.9" r="2.85"/><circle cx="94.3" cy="408.4" r="2.85"/><circle cx="90.6" cy="408.3" r="2.85"/><circle cx="95.9" cy="408.2" r="2.85"/><circle cx="93.1" cy="408.7" r="2.85"/><circle cx="89.5" cy="409.2" r="2.85"/><circle cx="94.9" cy="408.6" r="2.85"/><circle cx="91.4" cy="409.5" r="2.85"/><circle cx="88.5" cy="408.8" r="2.85"/><circle cx="93.8" cy="409.2" r="2.85"/><circle cx="90.1" cy="409.3" r="2.85"/><circle cx="95.5" cy="410" r="2.85"/><circle cx="92.5" cy="410.4" r="2.85"/><circle cx="89.1" cy="410.3" r="2.85"/><circle cx="94.5" cy="410.1" r="2.85"/><circle cx="90.9" cy="410.8" r="2.85"/><circle cx="88.1" cy="410.4" r="2.85"/><circle cx="93.4" cy="410.5" r="2.85"/><circle cx="89.7" cy="411.1" r="2.85"/><circle cx="95.2" cy="411.1" r="2.85"/><circle cx="88.3" cy="402.6" r="2.85"/><circle cx="90.2" cy="402.6" r="2.85"/><circle cx="216.5" cy="411.2" r="2.85"/><circle cx="221.6" cy="411.6" r="2.85"/><circle cx="218.1" cy="411.9" r="2.85"/><circle cx="223.4" cy="411.2" r="2.85"/><circle cx="220" cy="411.5" r="2.85"/><circle cx="217.1" cy="411.6" r="2.85"/><circle cx="222.3" cy="412" r="2.85"/><circle cx="218.7" cy="411.4" r="2.85"/><circle cx="224" cy="411.8" r="2.85"/><circle cx="221.1" cy="411.7" r="2.85"/><circle cx="217.7" cy="412.1" r="2.85"/><circle cx="223" cy="411.7" r="2.85"/><circle cx="219.5" cy="412.1" r="2.85"/><circle cx="216.7" cy="411.9" r="2.85"/><circle cx="283.1" cy="396.4" r="2.85"/><circle cx="288.1" cy="397.1" r="2.85"/><circle cx="285.4" cy="397.2" r="2.85"/><circle cx="282.1" cy="397.5" r="2.85"/><circle cx="287.2" cy="397.2" r="2.85"/><circle cx="283.8" cy="397.7" r="2.85"/><circle cx="281.2" cy="398.3" r="2.85"/><circle cx="286.1" cy="398.4" r="2.85"/><circle cx="282.7" cy="398.2" r="2.85"/><circle cx="287.7" cy="398.8" r="2.85"/><circle cx="284.8" cy="399.5" r="2.85"/><circle cx="281.8" cy="399.1" r="2.85"/><circle cx="286.8" cy="399.3" r="2.85"/><circle cx="283.4" cy="399.7" r="2.85"/><circle cx="288.3" cy="400.4" r="2.85"/><circle cx="285.7" cy="400.8" r="2.85"/><circle cx="282.3" cy="400.3" r="2.85"/><circle cx="287.4" cy="400.6" r="2.85"/><circle cx="284.1" cy="401" r="2.85"/><circle cx="281.4" cy="401.3" r="2.85"/><circle cx="286.4" cy="401.8" r="2.85"/><circle cx="283" cy="401.7" r="2.85"/><circle cx="287.9" cy="402.1" r="2.85"/><circle cx="285.2" cy="402.2" r="2.85"/><circle cx="282" cy="403.3" r="2.85"/><circle cx="287" cy="403.3" r="2.85"/><circle cx="283.6" cy="402.9" r="2.85"/><circle cx="281.1" cy="404.1" r="2.85"/><circle cx="286" cy="403.5" r="2.85"/><circle cx="282.6" cy="404" r="2.85"/><circle cx="287.6" cy="404.9" r="2.85"/><circle cx="284.5" cy="404.9" r="2.85"/><circle cx="281.6" cy="405.1" r="2.85"/><circle cx="286.6" cy="405.1" r="2.85"/><circle cx="283.2" cy="405.1" r="2.85"/><circle cx="288.1" cy="405.8" r="2.85"/><circle cx="285.5" cy="405.6" r="2.85"/><circle cx="282.2" cy="405.9" r="2.85"/><circle cx="287.2" cy="406.4" r="2.85"/><circle cx="283.9" cy="406.3" r="2.85"/><circle cx="281.3" cy="406.9" r="2.85"/><circle cx="286.2" cy="407.6" r="2.85"/><circle cx="282.8" cy="407.7" r="2.85"/><circle cx="287.8" cy="407.8" r="2.85"/><circle cx="285" cy="408.2" r="2.85"/><circle cx="281.8" cy="408.3" r="2.85"/><circle cx="286.9" cy="408.2" r="2.85"/><circle cx="283.5" cy="409" r="2.85"/><circle cx="288.4" cy="409" r="2.85"/><circle cx="285.8" cy="409.6" r="2.85"/><circle cx="282.4" cy="410.1" r="2.85"/><circle cx="287.5" cy="409.8" r="2.85"/><circle cx="284.3" cy="410.2" r="2.85"/><circle cx="281.5" cy="410.7" r="2.85"/><circle cx="286.5" cy="410.6" r="2.85"/><circle cx="283.1" cy="410.7" r="2.85"/><circle cx="288" cy="411.5" r="2.85"/><circle cx="285.3" cy="411.9" r="2.85"/><circle cx="282.1" cy="412" r="2.85"/><circle cx="287.1" cy="412.1" r="2.85"/>
</g>
<g fill="#ff9f9b">
<circle cx="108.4" cy="407.4" r="2.85"/><circle cx="105.9" cy="407.9" r="2.85"/><circle cx="102.6" cy="407.9" r="2.85"/><circle cx="107.5" cy="408.2" r="2.85"/><circle cx="104.3" cy="408" r="2.85"/><circle cx="101.7" cy="408.4" r="2.85"/><circle cx="106.5" cy="408.4" r="2.85"/><circle cx="103.2" cy="408.3" r="2.85"/><circle cx="108.1" cy="408.3" r="2.85"/><circle cx="105.4" cy="408.9" r="2.85"/><circle cx="102.3" cy="408.5" r="2.85"/><circle cx="107.1" cy="409.5" r="2.85"/><circle cx="103.9" cy="408.9" r="2.85"/><circle cx="101.4" cy="408.9" r="2.85"/><circle cx="106.1" cy="409.2" r="2.85"/><circle cx="102.8" cy="410.1" r="2.85"/><circle cx="107.7" cy="409.7" r="2.85"/><circle cx="104.7" cy="409.6" r="2.85"/><circle cx="101.9" cy="409.7" r="2.85"/><circle cx="106.8" cy="409.8" r="2.85"/><circle cx="103.5" cy="410.6" r="2.85"/><circle cx="108.3" cy="410.7" r="2.85"/><circle cx="105.7" cy="411" r="2.85"/><circle cx="102.5" cy="411.1" r="2.85"/><circle cx="107.4" cy="410.6" r="2.85"/><circle cx="104.2" cy="411.3" r="2.85"/><circle cx="101.6" cy="411.2" r="2.85"/><circle cx="106.4" cy="411.8" r="2.85"/><circle cx="103.1" cy="412" r="2.85"/><circle cx="107.9" cy="412.2" r="2.85"/><circle cx="105.2" cy="411.5" r="2.85"/><circle cx="102.1" cy="412.5" r="2.85"/><circle cx="107" cy="412.6" r="2.85"/><circle cx="103.7" cy="412.6" r="2.85"/><circle cx="108.5" cy="412.2" r="2.85"/><circle cx="231.2" cy="411.3" r="2.85"/><circle cx="235.9" cy="411.2" r="2.85"/><circle cx="232.9" cy="411.1" r="2.85"/><circle cx="230.3" cy="411.6" r="2.85"/><circle cx="235" cy="411.1" r="2.85"/><circle cx="231.8" cy="411.9" r="2.85"/><circle cx="236.5" cy="411.9" r="2.85"/><circle cx="233.9" cy="412.1" r="2.85"/><circle cx="230.8" cy="412.1" r="2.85"/><circle cx="235.6" cy="411.9" r="2.85"/><circle cx="232.4" cy="412.1" r="2.85"/><circle cx="230" cy="412.2" r="2.85"/><circle cx="234.6" cy="412.5" r="2.85"/><circle cx="231.4" cy="412.1" r="2.85"/><circle cx="301.3" cy="396.7" r="2.85"/><circle cx="297.7" cy="396.9" r="2.85"/><circle cx="294.5" cy="396.9" r="2.85"/><circle cx="300.2" cy="397" r="2.85"/><circle cx="296.3" cy="397.6" r="2.85"/><circle cx="301.9" cy="397.3" r="2.85"/><circle cx="298.9" cy="397.9" r="2.85"/><circle cx="295.2" cy="398.5" r="2.85"/><circle cx="300.9" cy="398.7" r="2.85"/><circle cx="297.1" cy="398.8" r="2.85"/><circle cx="294.1" cy="398.7" r="2.85"/><circle cx="299.7" cy="399.1" r="2.85"/><circle cx="295.8" cy="399.4" r="2.85"/><circle cx="301.5" cy="399.8" r="2.85"/><circle cx="298.2" cy="399.9" r="2.85"/><circle cx="294.7" cy="400.4" r="2.85"/><circle cx="300.4" cy="400.9" r="2.85"/><circle cx="296.6" cy="400.4" r="2.85"/><circle cx="302.1" cy="401.1" r="2.85"/><circle cx="299.2" cy="401.5" r="2.85"/><circle cx="295.4" cy="401.3" r="2.85"/><circle cx="301.1" cy="401.7" r="2.85"/><circle cx="297.4" cy="402.4" r="2.85"/><circle cx="294.4" cy="401.7" r="2.85"/><circle cx="300" cy="402.5" r="2.85"/><circle cx="296.1" cy="402.4" r="2.85"/><circle cx="301.8" cy="403.2" r="2.85"/><circle cx="298.6" cy="403.6" r="2.85"/><circle cx="295" cy="403.5" r="2.85"/><circle cx="300.7" cy="403.3" r="2.85"/><circle cx="296.9" cy="404" r="2.85"/><circle cx="294" cy="404.2" r="2.85"/><circle cx="299.5" cy="404.7" r="2.85"/><circle cx="295.7" cy="404.7" r="2.85"/><circle cx="301.4" cy="405.1" r="2.85"/><circle cx="297.8" cy="405.5" r="2.85"/><circle cx="294.6" cy="405.5" r="2.85"/><circle cx="300.3" cy="405.6" r="2.85"/><circle cx="296.4" cy="406.4" r="2.85"/><circle cx="302" cy="405.9" r="2.85"/><circle cx="299" cy="406.6" r="2.85"/><circle cx="295.2" cy="406.6" r="2.85"/><circle cx="301" cy="407.2" r="2.85"/><circle cx="297.2" cy="406.8" r="2.85"/><circle cx="294.2" cy="407.9" r="2.85"/><circle cx="299.8" cy="407.5" r="2.85"/><circle cx="295.9" cy="407.5" r="2.85"/><circle cx="301.6" cy="408" r="2.85"/><circle cx="298.4" cy="408.3" r="2.85"/><circle cx="294.8" cy="408.2" r="2.85"/><circle cx="300.5" cy="408.8" r="2.85"/><circle cx="296.7" cy="409.1" r="2.85"/><circle cx="302.2" cy="409.6" r="2.85"/><circle cx="299.3" cy="409.5" r="2.85"/><circle cx="295.5" cy="409.7" r="2.85"/>
</g>
<g fill="#d0bbff">
<circle cx="115.5" cy="408" r="2.85"/><circle cx="120.9" cy="408" r="2.85"/><circle cx="117.4" cy="408.6" r="2.85"/><circle cx="114.6" cy="408.7" r="2.85"/><circle cx="119.8" cy="408.7" r="2.85"/><circle cx="116.2" cy="409" r="2.85"/><circle cx="121.5" cy="408.9" r="2.85"/><circle cx="118.5" cy="408.7" r="2.85"/><circle cx="115.2" cy="408.6" r="2.85"/><circle cx="120.5" cy="408.8" r="2.85"/><circle cx="116.9" cy="409.5" r="2.85"/><circle cx="114.2" cy="409.1" r="2.85"/><circle cx="119.4" cy="409.4" r="2.85"/><circle cx="115.8" cy="409.6" r="2.85"/><circle cx="121.1" cy="409.3" r="2.85"/><circle cx="117.8" cy="409.7" r="2.85"/><circle cx="114.8" cy="409.8" r="2.85"/><circle cx="120.1" cy="410.4" r="2.85"/><circle cx="116.5" cy="410.2" r="2.85"/><circle cx="121.7" cy="410.2" r="2.85"/><circle cx="118.9" cy="411" r="2.85"/><circle cx="115.4" cy="410.7" r="2.85"/><circle cx="120.7" cy="411.2" r="2.85"/><circle cx="117.2" cy="411" r="2.85"/><circle cx="114.4" cy="410.6" r="2.85"/><circle cx="119.6" cy="411.1" r="2.85"/><circle cx="116" cy="411.2" r="2.85"/><circle cx="121.3" cy="411.7" r="2.85"/><circle cx="118.3" cy="411.4" r="2.85"/><circle cx="115" cy="411.8" r="2.85"/><circle cx="181.2" cy="412.5" r="2.85"/><circle cx="182.8" cy="412.9" r="2.85"/><circle cx="184.3" cy="412.5" r="2.85"/><circle cx="250.2" cy="411.1" r="2.85"/><circle cx="246.8" cy="411.1" r="2.85"/><circle cx="243.3" cy="411.1" r="2.85"/><circle cx="249.1" cy="411.4" r="2.85"/><circle cx="245.2" cy="411.2" r="2.85"/><circle cx="250.9" cy="411.1" r="2.85"/><circle cx="247.9" cy="411.4" r="2.85"/><circle cx="244" cy="411.1" r="2.85"/><circle cx="249.8" cy="411.3" r="2.85"/><circle cx="246" cy="411.4" r="2.85"/><circle cx="242.9" cy="411.4" r="2.85"/><circle cx="248.7" cy="411.4" r="2.85"/><circle cx="244.7" cy="411.4" r="2.85"/><circle cx="250.5" cy="411.3" r="2.85"/><circle cx="308.4" cy="404.5" r="2.85"/><circle cx="313.9" cy="404.9" r="2.85"/><circle cx="310.4" cy="404.8" r="2.85"/><circle cx="307.4" cy="404.7" r="2.85"/><circle cx="312.8" cy="405.5" r="2.85"/><circle cx="309.1" cy="405.4" r="2.85"/><circle cx="314.5" cy="405.4" r="2.85"/><circle cx="311.5" cy="405.6" r="2.85"/><circle cx="308" cy="406.5" r="2.85"/><circle cx="313.5" cy="406.7" r="2.85"/><circle cx="309.8" cy="406.8" r="2.85"/><circle cx="307" cy="406.9" r="2.85"/><circle cx="312.4" cy="407.2" r="2.85"/><circle cx="308.7" cy="407.1" r="2.85"/><circle cx="314.1" cy="408.1" r="2.85"/><circle cx="310.8" cy="407.7" r="2.85"/><circle cx="307.6" cy="408.2" r="2.85"/><circle cx="313.1" cy="408.7" r="2.85"/><circle cx="309.4" cy="408.9" r="2.85"/><circle cx="314.7" cy="408.8" r="2.85"/><circle cx="311.9" cy="408.9" r="2.85"/><circle cx="308.3" cy="409.4" r="2.85"/><circle cx="313.7" cy="409.2" r="2.85"/><circle cx="310.2" cy="410.1" r="2.85"/><circle cx="307.3" cy="409.9" r="2.85"/><circle cx="312.6" cy="410.6" r="2.85"/><circle cx="308.9" cy="410.3" r="2.85"/><circle cx="314.3" cy="410.6" r="2.85"/><circle cx="311.3" cy="410.7" r="2.85"/><circle cx="307.9" cy="411.2" r="2.85"/><circle cx="313.3" cy="411.2" r="2.85"/><circle cx="309.7" cy="411.2" r="2.85"/><circle cx="306.9" cy="412.2" r="2.85"/><circle cx="312.2" cy="412" r="2.85"/><circle cx="308.5" cy="412.2" r="2.85"/>
</g>
<g fill="#debb9b">
<circle cx="127.5" cy="403.2" r="2.85"/><circle cx="132.8" cy="403.2" r="2.85"/><circle cx="129.3" cy="406.6" r="2.85"/><circle cx="131.8" cy="406.4" r="2.85"/><circle cx="134.2" cy="406.8" r="2.85"/><circle cx="128.4" cy="410.8" r="2.85"/><circle cx="134.5" cy="410.8" r="2.85"/><circle cx="128.4" cy="413.7" r="2.85"/><circle cx="134.5" cy="413.7" r="2.85"/><circle cx="321.8" cy="391.8" r="2.85"/><circle cx="327.4" cy="392" r="2.85"/><circle cx="324.3" cy="392.5" r="2.85"/><circle cx="320.8" cy="392.8" r="2.85"/><circle cx="326.3" cy="392.8" r="2.85"/><circle cx="322.6" cy="393.7" r="2.85"/><circle cx="319.8" cy="393.9" r="2.85"/><circle cx="325.2" cy="393.4" r="2.85"/><circle cx="321.4" cy="394.4" r="2.85"/><circle cx="327" cy="394.8" r="2.85"/><circle cx="323.5" cy="395" r="2.85"/><circle cx="320.4" cy="394.6" r="2.85"/><circle cx="325.9" cy="395.6" r="2.85"/><circle cx="322.1" cy="395.7" r="2.85"/><circle cx="327.6" cy="395.4" r="2.85"/><circle cx="324.7" cy="395.7" r="2.85"/><circle cx="321" cy="396.9" r="2.85"/><circle cx="326.6" cy="396.9" r="2.85"/><circle cx="322.9" cy="396.8" r="2.85"/><circle cx="320" cy="396.9" r="2.85"/><circle cx="325.5" cy="397.2" r="2.85"/><circle cx="321.7" cy="397.6" r="2.85"/><circle cx="327.2" cy="398.5" r="2.85"/><circle cx="324.1" cy="398.3" r="2.85"/><circle cx="320.6" cy="398.4" r="2.85"/><circle cx="326.2" cy="399.4" r="2.85"/><circle cx="322.4" cy="399.6" r="2.85"/><circle cx="327.8" cy="399.3" r="2.85"/><circle cx="325" cy="400.3" r="2.85"/><circle cx="321.3" cy="400.3" r="2.85"/><circle cx="326.8" cy="400.8" r="2.85"/><circle cx="323.3" cy="401" r="2.85"/><circle cx="320.2" cy="401.5" r="2.85"/><circle cx="325.7" cy="401.7" r="2.85"/><circle cx="321.9" cy="402" r="2.85"/><circle cx="327.5" cy="401.6" r="2.85"/><circle cx="324.5" cy="402.4" r="2.85"/><circle cx="320.9" cy="402.6" r="2.85"/><circle cx="326.4" cy="403.1" r="2.85"/><circle cx="322.7" cy="403" r="2.85"/><circle cx="319.9" cy="403.8" r="2.85"/><circle cx="325.3" cy="403.7" r="2.85"/><circle cx="321.5" cy="403.7" r="2.85"/><circle cx="327.1" cy="404" r="2.85"/><circle cx="323.7" cy="404.2" r="2.85"/><circle cx="320.5" cy="404.8" r="2.85"/><circle cx="326" cy="404.7" r="2.85"/><circle cx="322.2" cy="405.4" r="2.85"/><circle cx="327.7" cy="405.4" r="2.85"/><circle cx="324.8" cy="406" r="2.85"/><circle cx="321.1" cy="406.3" r="2.85"/><circle cx="326.7" cy="406.6" r="2.85"/><circle cx="323" cy="407.2" r="2.85"/><circle cx="320.1" cy="406.7" r="2.85"/><circle cx="325.6" cy="407.8" r="2.85"/><circle cx="321.8" cy="407.7" r="2.85"/><circle cx="327.3" cy="408.1" r="2.85"/><circle cx="324.2" cy="408.5" r="2.85"/><circle cx="320.7" cy="409" r="2.85"/><circle cx="326.3" cy="408.8" r="2.85"/>
</g>
<g fill="#8de5a1">
<circle cx="407" cy="311.8" r="2.85"/><circle cx="404.1" cy="311.2" r="2.85"/><circle cx="409.6" cy="312.1" r="2.85"/><circle cx="405.8" cy="312.5" r="2.85"/><circle cx="411.4" cy="312.2" r="2.85"/><circle cx="408.2" cy="313.1" r="2.85"/><circle cx="404.8" cy="313.5" r="2.85"/><circle cx="410.3" cy="314.1" r="2.85"/><circle cx="406.5" cy="313.8" r="2.85"/><circle cx="412" cy="314.8" r="2.85"/><circle cx="409.1" cy="314.7" r="2.85"/><circle cx="405.4" cy="315" r="2.85"/><circle cx="411" cy="315.8" r="2.85"/><circle cx="407.4" cy="315.2" r="2.85"/><circle cx="404.4" cy="316.2" r="2.85"/><circle cx="409.9" cy="316.5" r="2.85"/><circle cx="406.1" cy="316.5" r="2.85"/><circle cx="411.6" cy="317.4" r="2.85"/><circle cx="408.6" cy="317.2" r="2.85"/><circle cx="405" cy="317.7" r="2.85"/><circle cx="410.6" cy="318.1" r="2.85"/><circle cx="406.8" cy="318.7" r="2.85"/><circle cx="404" cy="318.4" r="2.85"/><circle cx="409.4" cy="319" r="2.85"/><circle cx="405.7" cy="319.3" r="2.85"/><circle cx="411.2" cy="319.8" r="2.85"/><circle cx="407.8" cy="320.4" r="2.85"/><circle cx="404.6" cy="320.2" r="2.85"/><circle cx="410.2" cy="321.1" r="2.85"/><circle cx="406.4" cy="321" r="2.85"/><circle cx="411.8" cy="321.4" r="2.85"/><circle cx="408.9" cy="321.5" r="2.85"/><circle cx="405.2" cy="322.1" r="2.85"/><circle cx="410.8" cy="322.9" r="2.85"/><circle cx="407.2" cy="322.9" r="2.85"/><circle cx="404.2" cy="323.4" r="2.85"/><circle cx="409.7" cy="323.3" r="2.85"/><circle cx="405.9" cy="323.6" r="2.85"/><circle cx="411.5" cy="323.9" r="2.85"/><circle cx="408.3" cy="324.5" r="2.85"/><circle cx="404.8" cy="324.9" r="2.85"/><circle cx="410.4" cy="325.4" r="2.85"/><circle cx="406.7" cy="325" r="2.85"/><circle cx="412.1" cy="326" r="2.85"/><circle cx="409.2" cy="326.5" r="2.85"/><circle cx="405.5" cy="326.5" r="2.85"/><circle cx="411.1" cy="326.3" r="2.85"/><circle cx="407.5" cy="326.9" r="2.85"/><circle cx="404.5" cy="327" r="2.85"/><circle cx="410" cy="327.5" r="2.85"/><circle cx="406.2" cy="328.6" r="2.85"/><circle cx="411.7" cy="328.6" r="2.85"/><circle cx="408.7" cy="329" r="2.85"/><circle cx="405.1" cy="329.4" r="2.85"/><circle cx="410.7" cy="329.9" r="2.85"/><circle cx="407" cy="329.9" r="2.85"/><circle cx="404.1" cy="330.3" r="2.85"/><circle cx="409.5" cy="330.6" r="2.85"/><circle cx="405.8" cy="331" r="2.85"/><circle cx="411.3" cy="331.3" r="2.85"/><circle cx="408" cy="331.7" r="2.85"/><circle cx="404.7" cy="331.6" r="2.85"/><circle cx="410.3" cy="332.3" r="2.85"/><circle cx="406.5" cy="332.5" r="2.85"/><circle cx="411.9" cy="333.1" r="2.85"/><circle cx="409" cy="332.8" r="2.85"/><circle cx="405.3" cy="333.2" r="2.85"/><circle cx="410.9" cy="333.4" r="2.85"/><circle cx="407.3" cy="334.5" r="2.85"/><circle cx="404.3" cy="335" r="2.85"/><circle cx="409.8" cy="335" r="2.85"/><circle cx="406" cy="335.1" r="2.85"/><circle cx="411.5" cy="335.9" r="2.85"/><circle cx="408.5" cy="336.2" r="2.85"/><circle cx="404.9" cy="336.3" r="2.85"/><circle cx="410.5" cy="336.3" r="2.85"/><circle cx="406.8" cy="336.7" r="2.85"/><circle cx="403.9" cy="337.2" r="2.85"/><circle cx="409.4" cy="337.4" r="2.85"/><circle cx="405.6" cy="337.8" r="2.85"/><circle cx="411.2" cy="338.4" r="2.85"/><circle cx="407.7" cy="339" r="2.85"/><circle cx="404.6" cy="338.5" r="2.85"/><circle cx="410.1" cy="339.3" r="2.85"/><circle cx="406.3" cy="339.1" r="2.85"/><circle cx="411.8" cy="339.5" r="2.85"/><circle cx="408.8" cy="340.6" r="2.85"/><circle cx="405.2" cy="340.7" r="2.85"/><circle cx="410.8" cy="341.4" r="2.85"/><circle cx="407.1" cy="341.2" r="2.85"/><circle cx="404.2" cy="341.1" r="2.85"/><circle cx="409.6" cy="341.8" r="2.85"/><circle cx="405.9" cy="342.4" r="2.85"/><circle cx="411.4" cy="343.1" r="2.85"/><circle cx="408.2" cy="343.4" r="2.85"/><circle cx="404.8" cy="343.3" r="2.85"/><circle cx="410.4" cy="343.5" r="2.85"/><circle cx="406.6" cy="343.6" r="2.85"/><circle cx="412" cy="344.4" r="2.85"/><circle cx="409.2" cy="344.3" r="2.85"/><circle cx="405.4" cy="344.6" r="2.85"/><circle cx="411" cy="344.8" r="2.85"/><circle cx="407.4" cy="345.1" r="2.85"/><circle cx="404.4" cy="346.2" r="2.85"/><circle cx="409.9" cy="345.9" r="2.85"/><circle cx="406.1" cy="347.1" r="2.85"/><circle cx="411.6" cy="346.6" r="2.85"/><circle cx="408.6" cy="347.7" r="2.85"/><circle cx="405" cy="347.3" r="2.85"/><circle cx="410.6" cy="347.5" r="2.85"/><circle cx="406.9" cy="348.6" r="2.85"/><circle cx="404" cy="348.4" r="2.85"/><circle cx="409.5" cy="349.2" r="2.85"/><circle cx="405.7" cy="349" r="2.85"/><circle cx="411.3" cy="349.2" r="2.85"/><circle cx="407.9" cy="350.3" r="2.85"/><circle cx="404.6" cy="350.6" r="2.85"/><circle cx="410.2" cy="351" r="2.85"/><circle cx="406.4" cy="351.3" r="2.85"/><circle cx="411.9" cy="350.9" r="2.85"/><circle cx="409" cy="351.8" r="2.85"/><circle cx="405.3" cy="352.2" r="2.85"/><circle cx="410.9" cy="352.3" r="2.85"/><circle cx="407.2" cy="353.1" r="2.85"/><circle cx="404.3" cy="352.8" r="2.85"/><circle cx="409.8" cy="353.8" r="2.85"/><circle cx="406" cy="353.9" r="2.85"/><circle cx="411.5" cy="353.6" r="2.85"/><circle cx="408.4" cy="353.9" r="2.85"/><circle cx="404.9" cy="354.9" r="2.85"/><circle cx="410.5" cy="355.4" r="2.85"/><circle cx="406.7" cy="355" r="2.85"/><circle cx="412.1" cy="355.6" r="2.85"/><circle cx="409.3" cy="356.3" r="2.85"/><circle cx="405.5" cy="356.1" r="2.85"/><circle cx="411.1" cy="357.1" r="2.85"/><circle cx="407.6" cy="357.1" r="2.85"/><circle cx="404.5" cy="357" r="2.85"/><circle cx="410" cy="357.6" r="2.85"/><circle cx="406.2" cy="358.2" r="2.85"/><circle cx="411.7" cy="358.4" r="2.85"/><circle cx="408.8" cy="358.9" r="2.85"/><circle cx="405.1" cy="358.7" r="2.85"/><circle cx="410.7" cy="359.7" r="2.85"/><circle cx="407" cy="359.6" r="2.85"/><circle cx="404.1" cy="360.3" r="2.85"/><circle cx="409.6" cy="360.6" r="2.85"/><circle cx="405.8" cy="360.7" r="2.85"/><circle cx="411.3" cy="361" r="2.85"/><circle cx="408.1" cy="361.7" r="2.85"/><circle cx="404.7" cy="362.2" r="2.85"/><circle cx="410.3" cy="362.4" r="2.85"/><circle cx="406.5" cy="362.5" r="2.85"/><circle cx="412" cy="362.6" r="2.85"/><circle cx="409.1" cy="362.7" r="2.85"/><circle cx="405.4" cy="364" r="2.85"/><circle cx="411" cy="364" r="2.85"/><circle cx="407.4" cy="364.5" r="2.85"/><circle cx="404.4" cy="364.3" r="2.85"/><circle cx="409.9" cy="364.9" r="2.85"/><circle cx="406.1" cy="365.6" r="2.85"/><circle cx="411.6" cy="365.8" r="2.85"/><circle cx="408.5" cy="365.9" r="2.85"/><circle cx="405" cy="366" r="2.85"/><circle cx="410.6" cy="366.4" r="2.85"/><circle cx="406.8" cy="367.2" r="2.85"/><circle cx="404" cy="367.1" r="2.85"/><circle cx="409.4" cy="367.7" r="2.85"/><circle cx="405.6" cy="368" r="2.85"/><circle cx="411.2" cy="368.6" r="2.85"/><circle cx="407.7" cy="368.8" r="2.85"/><circle cx="404.6" cy="368.6" r="2.85"/><circle cx="410.1" cy="368.7" r="2.85"/><circle cx="406.3" cy="369.3" r="2.85"/><circle cx="411.8" cy="369.8" r="2.85"/><circle cx="408.9" cy="370.3" r="2.85"/><circle cx="405.2" cy="370.9" r="2.85"/><circle cx="410.8" cy="371.3" r="2.85"/><circle cx="407.1" cy="370.8" r="2.85"/><circle cx="404.2" cy="371.9" r="2.85"/><circle cx="409.7" cy="372.2" r="2.85"/><circle cx="405.9" cy="372.6" r="2.85"/><circle cx="411.4" cy="372.6" r="2.85"/><circle cx="408.3" cy="372.7" r="2.85"/><circle cx="404.8" cy="373.6" r="2.85"/><circle cx="410.4" cy="373.9" r="2.85"/><circle cx="406.6" cy="374.1" r="2.85"/><circle cx="412" cy="374.7" r="2.85"/><circle cx="409.2" cy="374.4" r="2.85"/><circle cx="405.5" cy="374.5" r="2.85"/><circle cx="411" cy="375.3" r="2.85"/><circle cx="407.5" cy="375.9" r="2.85"/><circle cx="404.4" cy="375.6" r="2.85"/><circle cx="410" cy="376.5" r="2.85"/><circle cx="406.2" cy="377" r="2.85"/><circle cx="411.7" cy="376.7" r="2.85"/><circle cx="408.7" cy="377.4" r="2.85"/><circle cx="405.1" cy="377.8" r="2.85"/><circle cx="410.6" cy="377.9" r="2.85"/><circle cx="406.9" cy="378" r="2.85"/><circle cx="404.1" cy="378.4" r="2.85"/><circle cx="409.5" cy="379.2" r="2.85"/><circle cx="405.7" cy="379.6" r="2.85"/><circle cx="411.3" cy="379.6" r="2.85"/><circle cx="407.9" cy="379.6" r="2.85"/><circle cx="404.7" cy="380.6" r="2.85"/><circle cx="410.2" cy="380.9" r="2.85"/><circle cx="406.5" cy="380.7" r="2.85"/><circle cx="411.9" cy="381.4" r="2.85"/><circle cx="409" cy="382" r="2.85"/><circle cx="405.3" cy="382.4" r="2.85"/><circle cx="410.9" cy="382.3" r="2.85"/><circle cx="407.3" cy="382.6" r="2.85"/><circle cx="404.3" cy="383.1" r="2.85"/><circle cx="409.8" cy="383" r="2.85"/><circle cx="406" cy="383.4" r="2.85"/><circle cx="411.5" cy="383.7" r="2.85"/><circle cx="408.5" cy="384.5" r="2.85"/><circle cx="404.9" cy="384.5" r="2.85"/><circle cx="410.5" cy="385.1" r="2.85"/><circle cx="406.7" cy="385.3" r="2.85"/><circle cx="403.9" cy="385.7" r="2.85"/><circle cx="409.3" cy="385.7" r="2.85"/><circle cx="405.6" cy="385.9" r="2.85"/><circle cx="411.1" cy="387.2" r="2.85"/><circle cx="407.6" cy="386.9" r="2.85"/><circle cx="404.5" cy="387" r="2.85"/><circle cx="410.1" cy="387.8" r="2.85"/><circle cx="406.3" cy="388.3" r="2.85"/><circle cx="411.8" cy="388" r="2.85"/><circle cx="410.2" cy="399.1" r="2.85"/><circle cx="410.9" cy="398.9" r="2.85"/><circle cx="411.6" cy="399" r="2.85"/><circle cx="534" cy="379.7" r="2.85"/><circle cx="538.2" cy="380.1" r="2.85"/><circle cx="534.2" cy="400.2" r="2.85"/><circle cx="536.5" cy="399" r="2.85"/><circle cx="538.2" cy="398.2" r="2.85"/><circle cx="533.8" cy="401" r="2.85"/><circle cx="600" cy="349.3" r="2.85"/><circle cx="601.9" cy="349.3" r="2.85"/><circle cx="603.8" cy="349.3" r="2.85"/><circle cx="597.6" cy="357.3" r="2.85"/><circle cx="600" cy="357.7" r="2.85"/><circle cx="602.4" cy="357.5" r="2.85"/><circle cx="604.8" cy="357.7" r="2.85"/><circle cx="603" cy="361.5" r="2.85"/><circle cx="597.1" cy="378.4" r="2.85"/><circle cx="599.5" cy="378.5" r="2.85"/><circle cx="601.8" cy="378.8" r="2.85"/><circle cx="604.1" cy="378.6" r="2.85"/><circle cx="602.9" cy="381.9" r="2.85"/><circle cx="604.1" cy="382" r="2.85"/><circle cx="596.6" cy="393.3" r="2.85"/><circle cx="598.9" cy="393.6" r="2.85"/><circle cx="601.2" cy="393.2" r="2.85"/>
</g>
<g fill="#ff9f9b">
<circle cx="416.9" cy="357.3" r="2.85"/><circle cx="419.2" cy="357.3" r="2.85"/><circle cx="421.5" cy="357.9" r="2.85"/><circle cx="421.1" cy="363.5" r="2.85"/><circle cx="422.2" cy="363.3" r="2.85"/><circle cx="423.4" cy="363.3" r="2.85"/><circle cx="481.7" cy="349.9" r="2.85"/><circle cx="484.2" cy="349.8" r="2.85"/><circle cx="486.6" cy="350.3" r="2.85"/><circle cx="489.1" cy="349.9" r="2.85"/><circle cx="482.9" cy="353.8" r="2.85"/><circle cx="485.5" cy="353.9" r="2.85"/><circle cx="488.1" cy="354.1" r="2.85"/><circle cx="487.1" cy="359.6" r="2.85"/><circle cx="483.3" cy="360.1" r="2.85"/><circle cx="488.9" cy="360.2" r="2.85"/><circle cx="485.8" cy="361.4" r="2.85"/><circle cx="482.3" cy="361.8" r="2.85"/><circle cx="487.8" cy="361.4" r="2.85"/><circle cx="484.1" cy="361.6" r="2.85"/><circle cx="489.5" cy="362.2" r="2.85"/><circle cx="486.7" cy="362.7" r="2.85"/><circle cx="482.9" cy="363.6" r="2.85"/><circle cx="488.5" cy="364" r="2.85"/><circle cx="484.9" cy="364.3" r="2.85"/><circle cx="481.9" cy="363.9" r="2.85"/><circle cx="487.4" cy="365.1" r="2.85"/><circle cx="483.6" cy="365.4" r="2.85"/><circle cx="489.1" cy="365.7" r="2.85"/><circle cx="486.1" cy="366.4" r="2.85"/><circle cx="482.5" cy="365.9" r="2.85"/><circle cx="488.1" cy="366.4" r="2.85"/><circle cx="484.4" cy="367.4" r="2.85"/><circle cx="481.5" cy="367.9" r="2.85"/><circle cx="487" cy="368.1" r="2.85"/><circle cx="483.2" cy="368.1" r="2.85"/><circle cx="488.7" cy="368.7" r="2.85"/><circle cx="485.5" cy="369.3" r="2.85"/><circle cx="482.1" cy="369" r="2.85"/><circle cx="487.7" cy="369.6" r="2.85"/><circle cx="483.9" cy="370" r="2.85"/><circle cx="489.3" cy="370.2" r="2.85"/><circle cx="486.5" cy="371" r="2.85"/><circle cx="482.8" cy="371" r="2.85"/><circle cx="488.3" cy="371.5" r="2.85"/><circle cx="484.7" cy="371.8" r="2.85"/><circle cx="481.7" cy="372.7" r="2.85"/><circle cx="487.2" cy="372.4" r="2.85"/><circle cx="483.4" cy="373.5" r="2.85"/><circle cx="489" cy="373.4" r="2.85"/><circle cx="485.9" cy="373.6" r="2.85"/><circle cx="482.4" cy="374.9" r="2.85"/><circle cx="487.9" cy="374.6" r="2.85"/><circle cx="484.2" cy="375.7" r="2.85"/><circle cx="481.4" cy="376" r="2.85"/><circle cx="486.8" cy="376.4" r="2.85"/><circle cx="483" cy="376" r="2.85"/><circle cx="488.6" cy="376.7" r="2.85"/><circle cx="485.1" cy="376.8" r="2.85"/><circle cx="482" cy="378" r="2.85"/><circle cx="487.5" cy="378.3" r="2.85"/><circle cx="483.7" cy="378.5" r="2.85"/><circle cx="489.2" cy="378.7" r="2.85"/><circle cx="486.3" cy="378.9" r="2.85"/><circle cx="482.6" cy="379.8" r="2.85"/><circle cx="488.2" cy="379.9" r="2.85"/><circle cx="484.5" cy="380.4" r="2.85"/><circle cx="481.6" cy="380.3" r="2.85"/><circle cx="487.1" cy="380.8" r="2.85"/><circle cx="483.3" cy="381" r="2.85"/><circle cx="488.8" cy="382" r="2.85"/><circle cx="485.7" cy="382.3" r="2.85"/><circle cx="482.2" cy="382.2" r="2.85"/><circle cx="487.8" cy="383.3" r="2.85"/><circle cx="484" cy="383.1" r="2.85"/><circle cx="489.4" cy="383.7" r="2.85"/><circle cx="486.6" cy="383.8" r="2.85"/><circle cx="482.9" cy="384.3" r="2.85"/><circle cx="488.4" cy="385.2" r="2.85"/><circle cx="484.9" cy="385.1" r="2.85"/><circle cx="481.8" cy="385.3" r="2.85"/><circle cx="487.3" cy="386.1" r="2.85"/><circle cx="483.5" cy="386.3" r="2.85"/><circle cx="481.8" cy="394.2" r="2.85"/><circle cx="483.1" cy="393.8" r="2.85"/><circle cx="484.5" cy="394.3" r="2.85"/><circle cx="482" cy="405.2" r="2.85"/><circle cx="483.6" cy="405.7" r="2.85"/><circle cx="485.1" cy="405.6" r="2.85"/><circle cx="545.1" cy="371" r="2.85"/><circle cx="550.1" cy="370.9" r="2.85"/><circle cx="546.6" cy="371.1" r="2.85"/><circle cx="551.8" cy="371.3" r="2.85"/><circle cx="548.6" cy="372.4" r="2.85"/><circle cx="545.7" cy="372.5" r="2.85"/><circle cx="550.8" cy="372.5" r="2.85"/><circle cx="547.3" cy="373.1" r="2.85"/><circle cx="552.4" cy="373.9" r="2.85"/><circle cx="549.7" cy="373.6" r="2.85"/><circle cx="546.3" cy="374.3" r="2.85"/><circle cx="551.4" cy="374.2" r="2.85"/><circle cx="548" cy="374.6" r="2.85"/><circle cx="545.3" cy="375.5" r="2.85"/><circle cx="550.4" cy="375.8" r="2.85"/><circle cx="546.9" cy="375.6" r="2.85"/><circle cx="552" cy="375.8" r="2.85"/><circle cx="549.1" cy="376.2" r="2.85"/><circle cx="545.9" cy="377.1" r="2.85"/><circle cx="551" cy="377.3" r="2.85"/><circle cx="547.6" cy="377.4" r="2.85"/><circle cx="552.6" cy="377.7" r="2.85"/><circle cx="550" cy="378.5" r="2.85"/><circle cx="546.5" cy="378.9" r="2.85"/><circle cx="551.6" cy="379.4" r="2.85"/><circle cx="548.4" cy="379.5" r="2.85"/><circle cx="545.5" cy="379.4" r="2.85"/><circle cx="550.6" cy="379.6" r="2.85"/><circle cx="547.1" cy="380.7" r="2.85"/><circle cx="552.2" cy="380.7" r="2.85"/><circle cx="549.5" cy="381.3" r="2.85"/><circle cx="546.1" cy="381" r="2.85"/><circle cx="551.3" cy="382.1" r="2.85"/><circle cx="547.8" cy="382" r="2.85"/><circle cx="545.2" cy="382.9" r="2.85"/><circle cx="550.2" cy="383.2" r="2.85"/><circle cx="546.7" cy="383.2" r="2.85"/><circle cx="551.9" cy="383.1" r="2.85"/><circle cx="548.8" cy="384.3" r="2.85"/><circle cx="545.7" cy="384.2" r="2.85"/><circle cx="550.9" cy="385" r="2.85"/><circle cx="547.4" cy="384.7" r="2.85"/><circle cx="552.4" cy="385" r="2.85"/><circle cx="549.8" cy="386" r="2.85"/><circle cx="546.3" cy="385.8" r="2.85"/><circle cx="545.4" cy="394.1" r="2.85"/><circle cx="546.9" cy="394.2" r="2.85"/><circle cx="548.1" cy="401" r="2.85"/><circle cx="550.3" cy="400.6" r="2.85"/><circle cx="552.5" cy="400.9" r="2.85"/><circle cx="614.8" cy="325.8" r="2.85"/><circle cx="616.4" cy="326" r="2.85"/><circle cx="611" cy="341.1" r="2.85"/><circle cx="616.4" cy="340.9" r="2.85"/><circle cx="617.6" cy="341.2" r="2.85"/><circle cx="617.5" cy="375.2" r="2.85"/><circle cx="614.4" cy="375.6" r="2.85"/><circle cx="610.6" cy="376.5" r="2.85"/><circle cx="616.4" cy="377.2" r="2.85"/><circle cx="612.6" cy="377.5" r="2.85"/><circle cx="609.5" cy="378.1" r="2.85"/><circle cx="615.3" cy="378.8" r="2.85"/><circle cx="611.3" cy="379.6" r="2.85"/><circle cx="617.1" cy="380.4" r="2.85"/><circle cx="613.8" cy="381" r="2.85"/><circle cx="610.2" cy="381.6" r="2.85"/><circle cx="616" cy="382.1" r="2.85"/><circle cx="611.9" cy="372.5" r="2.85"/><circle cx="615.1" cy="372.7" r="2.85"/>
</g>
<g fill="#d0bbff">
<circle cx="429.8" cy="348.6" r="2.85"/><circle cx="430.6" cy="348.9" r="2.85"/><circle cx="435.9" cy="348.7" r="2.85"/><circle cx="436.8" cy="349" r="2.85"/><circle cx="434.5" cy="384.4" r="2.85"/><circle cx="435.3" cy="384.4" r="2.85"/><circle cx="436.1" cy="384.5" r="2.85"/><circle cx="431.1" cy="391.9" r="2.85"/><circle cx="432.9" cy="391.7" r="2.85"/><circle cx="434.9" cy="391.8" r="2.85"/><circle cx="436.8" cy="391.8" r="2.85"/><circle cx="431.4" cy="396" r="2.85"/><circle cx="433.1" cy="395.9" r="2.85"/><circle cx="434.9" cy="396.2" r="2.85"/><circle cx="436.6" cy="396.4" r="2.85"/><circle cx="493.7" cy="372.2" r="2.85"/><circle cx="497.8" cy="372.4" r="2.85"/><circle cx="494.2" cy="380.4" r="2.85"/><circle cx="495.7" cy="380.4" r="2.85"/><circle cx="497.1" cy="380.3" r="2.85"/><circle cx="496.9" cy="382.4" r="2.85"/><circle cx="500.8" cy="382.8" r="2.85"/><circle cx="561.3" cy="370.7" r="2.85"/><circle cx="558.2" cy="370.7" r="2.85"/><circle cx="563.9" cy="371.6" r="2.85"/><circle cx="560" cy="372.1" r="2.85"/><circle cx="565.6" cy="372.5" r="2.85"/><circle cx="562.5" cy="372.3" r="2.85"/><circle cx="558.9" cy="373" r="2.85"/><circle cx="564.6" cy="373" r="2.85"/><circle cx="560.7" cy="373.7" r="2.85"/><circle cx="557.9" cy="373.4" r="2.85"/><circle cx="563.4" cy="374.6" r="2.85"/><circle cx="559.5" cy="375" r="2.85"/><circle cx="565.2" cy="374.9" r="2.85"/><circle cx="561.7" cy="375.2" r="2.85"/><circle cx="558.5" cy="375.6" r="2.85"/><circle cx="564.1" cy="375.9" r="2.85"/><circle cx="560.3" cy="375.8" r="2.85"/><circle cx="565.9" cy="377.1" r="2.85"/><circle cx="562.9" cy="376.7" r="2.85"/><circle cx="559.1" cy="377" r="2.85"/><circle cx="564.8" cy="377.2" r="2.85"/><circle cx="561.1" cy="377.7" r="2.85"/><circle cx="558.1" cy="378.6" r="2.85"/><circle cx="563.7" cy="378.2" r="2.85"/><circle cx="559.8" cy="378.6" r="2.85"/><circle cx="565.5" cy="379.6" r="2.85"/><circle cx="562.2" cy="379.4" r="2.85"/><circle cx="558.7" cy="379.6" r="2.85"/><circle cx="564.4" cy="380.5" r="2.85"/><circle cx="560.6" cy="380.8" r="2.85"/><circle cx="566.1" cy="381.1" r="2.85"/><circle cx="563.2" cy="381.6" r="2.85"/><circle cx="559.4" cy="381.4" r="2.85"/><circle cx="565.1" cy="382.5" r="2.85"/><circle cx="561.4" cy="382.7" r="2.85"/><circle cx="558.3" cy="382.4" r="2.85"/><circle cx="564" cy="382.8" r="2.85"/><circle cx="560.1" cy="383.5" r="2.85"/><circle cx="565.7" cy="383.9" r="2.85"/><circle cx="562.7" cy="384" r="2.85"/><circle cx="559" cy="384.2" r="2.85"/><circle cx="564.7" cy="384.8" r="2.85"/><circle cx="560.9" cy="384.9" r="2.85"/><circle cx="557.9" cy="385.7" r="2.85"/><circle cx="563.5" cy="386.3" r="2.85"/><circle cx="559.6" cy="385.9" r="2.85"/><circle cx="565.3" cy="386.7" r="2.85"/><circle cx="561.9" cy="387.2" r="2.85"/><circle cx="558.6" cy="387" r="2.85"/><circle cx="564.3" cy="388" r="2.85"/><circle cx="560.4" cy="388.5" r="2.85"/><circle cx="566" cy="388.3" r="2.85"/><circle cx="563" cy="388.6" r="2.85"/><circle cx="559.2" cy="389.4" r="2.85"/><circle cx="564.9" cy="389.4" r="2.85"/><circle cx="561.2" cy="389.6" r="2.85"/><circle cx="558.2" cy="390.5" r="2.85"/><circle cx="563.8" cy="390.7" r="2.85"/><circle cx="559.9" cy="390.6" r="2.85"/><circle cx="565.6" cy="390.9" r="2.85"/><circle cx="562.4" cy="391.3" r="2.85"/><circle cx="558.8" cy="391.8" r="2.85"/><circle cx="564.5" cy="392.6" r="2.85"/><circle cx="560.7" cy="392.8" r="2.85"/><circle cx="566.2" cy="393.3" r="2.85"/><circle cx="563.3" cy="393.5" r="2.85"/><circle cx="559.5" cy="393.9" r="2.85"/><circle cx="565.2" cy="393.5" r="2.85"/><circle cx="561.6" cy="394.3" r="2.85"/><circle cx="558.4" cy="395" r="2.85"/><circle cx="564.1" cy="395.4" r="2.85"/><circle cx="560.2" cy="395" r="2.85"/><circle cx="565.8" cy="395.5" r="2.85"/><circle cx="562.8" cy="396.1" r="2.85"/><circle cx="559.1" cy="396.2" r="2.85"/><circle cx="564.8" cy="396.7" r="2.85"/><circle cx="561" cy="396.6" r="2.85"/><circle cx="558" cy="397.3" r="2.85"/><circle cx="563.6" cy="397.7" r="2.85"/><circle cx="559.7" cy="397.6" r="2.85"/><circle cx="565.4" cy="398" r="2.85"/><circle cx="562.1" cy="399.2" r="2.85"/><circle cx="558.7" cy="399.4" r="2.85"/><circle cx="564.4" cy="399.9" r="2.85"/><circle cx="560.5" cy="399.9" r="2.85"/>
</g>
<g fill="#debb9b">
<circle cx="443.1" cy="350.4" r="2.85"/><circle cx="445.1" cy="350.7" r="2.85"/><circle cx="447.1" cy="350.6" r="2.85"/><circle cx="442.9" cy="383.9" r="2.85"/><circle cx="445.1" cy="384.3" r="2.85"/><circle cx="449.6" cy="384.2" r="2.85"/><circle cx="506.5" cy="388.3" r="2.85"/><circle cx="508.9" cy="388.3" r="2.85"/><circle cx="511.2" cy="387.8" r="2.85"/><circle cx="513.6" cy="387.9" r="2.85"/><circle cx="511.4" cy="391" r="2.85"/><circle cx="512.8" cy="390.5" r="2.85"/><circle cx="514.1" cy="390.9" r="2.85"/><circle cx="574.5" cy="403.6" r="2.85"/><circle cx="640.7" cy="305.1" r="2.85"/><circle cx="636.8" cy="305.5" r="2.85"/><circle cx="642.5" cy="305.4" r="2.85"/><circle cx="638.9" cy="306.2" r="2.85"/><circle cx="635.8" cy="306.3" r="2.85"/><circle cx="641.4" cy="306.7" r="2.85"/><circle cx="637.5" cy="307.1" r="2.85"/><circle cx="643.2" cy="307.3" r="2.85"/><circle cx="640.1" cy="307.4" r="2.85"/><circle cx="636.4" cy="307.7" r="2.85"/><circle cx="642.1" cy="308" r="2.85"/><circle cx="638.3" cy="308.6" r="2.85"/><circle cx="635.4" cy="308.8" r="2.85"/><circle cx="641" cy="309.3" r="2.85"/><circle cx="637.1" cy="309.1" r="2.85"/><circle cx="642.8" cy="309.8" r="2.85"/><circle cx="639.4" cy="310.6" r="2.85"/><circle cx="636" cy="310.3" r="2.85"/><circle cx="641.7" cy="310.9" r="2.85"/><circle cx="637.8" cy="311.2" r="2.85"/><circle cx="643.4" cy="311.3" r="2.85"/><circle cx="640.5" cy="312.4" r="2.85"/><circle cx="636.7" cy="312" r="2.85"/><circle cx="642.4" cy="312.8" r="2.85"/><circle cx="638.7" cy="312.5" r="2.85"/><circle cx="635.6" cy="312.7" r="2.85"/><circle cx="641.2" cy="313.9" r="2.85"/><circle cx="637.4" cy="313.8" r="2.85"/><circle cx="643" cy="313.7" r="2.85"/><circle cx="639.9" cy="314.4" r="2.85"/><circle cx="636.2" cy="314.8" r="2.85"/><circle cx="642" cy="315.4" r="2.85"/><circle cx="638.1" cy="315.1" r="2.85"/><circle cx="635.2" cy="315.5" r="2.85"/><circle cx="640.8" cy="316.6" r="2.85"/><circle cx="636.9" cy="316.7" r="2.85"/><circle cx="642.6" cy="316.4" r="2.85"/><circle cx="639" cy="316.9" r="2.85"/><circle cx="635.9" cy="317.3" r="2.85"/><circle cx="641.5" cy="317.9" r="2.85"/><circle cx="637.6" cy="318.2" r="2.85"/><circle cx="643.3" cy="318.8" r="2.85"/><circle cx="640.2" cy="319.1" r="2.85"/><circle cx="636.5" cy="319.1" r="2.85"/><circle cx="642.2" cy="319.6" r="2.85"/><circle cx="638.4" cy="320" r="2.85"/><circle cx="635.5" cy="320.3" r="2.85"/><circle cx="641.1" cy="320.3" r="2.85"/><circle cx="637.2" cy="321" r="2.85"/><circle cx="642.9" cy="321.2" r="2.85"/><circle cx="639.6" cy="321.8" r="2.85"/><circle cx="636.1" cy="321.3" r="2.85"/><circle cx="641.8" cy="322.4" r="2.85"/><circle cx="637.9" cy="321.8" r="2.85"/><circle cx="643.5" cy="322.9" r="2.85"/><circle cx="640.6" cy="323.1" r="2.85"/><circle cx="636.8" cy="323.3" r="2.85"/><circle cx="642.5" cy="324.1" r="2.85"/><circle cx="638.8" cy="324" r="2.85"/><circle cx="635.7" cy="324.2" r="2.85"/><circle cx="641.4" cy="324.9" r="2.85"/><circle cx="637.5" cy="325.3" r="2.85"/><circle cx="643.1" cy="325.4" r="2.85"/><circle cx="640" cy="325.5" r="2.85"/><circle cx="636.3" cy="325.9" r="2.85"/><circle cx="642.1" cy="326.2" r="2.85"/><circle cx="638.2" cy="326.8" r="2.85"/><circle cx="635.3" cy="326.7" r="2.85"/><circle cx="640.9" cy="327.1" r="2.85"/><circle cx="637" cy="327.6" r="2.85"/><circle cx="642.7" cy="327.8" r="2.85"/><circle cx="639.2" cy="328" r="2.85"/><circle cx="635.9" cy="328.8" r="2.85"/><circle cx="641.6" cy="329.2" r="2.85"/><circle cx="637.7" cy="329.2" r="2.85"/><circle cx="643.3" cy="329.5" r="2.85"/><circle cx="640.4" cy="329.5" r="2.85"/><circle cx="636.6" cy="330" r="2.85"/><circle cx="642.3" cy="330.1" r="2.85"/><circle cx="638.6" cy="330.9" r="2.85"/><circle cx="635.6" cy="331.2" r="2.85"/><circle cx="641.2" cy="331.1" r="2.85"/><circle cx="637.3" cy="332.2" r="2.85"/><circle cx="643" cy="332" r="2.85"/><circle cx="639.8" cy="332.8" r="2.85"/><circle cx="636.2" cy="333.1" r="2.85"/><circle cx="641.9" cy="333.6" r="2.85"/><circle cx="638" cy="333.1" r="2.85"/><circle cx="643.6" cy="333.7" r="2.85"/><circle cx="640.7" cy="334.5" r="2.85"/><circle cx="636.9" cy="333.9" r="2.85"/><circle cx="642.6" cy="334.3" r="2.85"/><circle cx="638.9" cy="335.1" r="2.85"/><circle cx="635.8" cy="335.4" r="2.85"/><circle cx="641.5" cy="336.1" r="2.85"/><circle cx="637.6" cy="336.3" r="2.85"/><circle cx="643.2" cy="336.4" r="2.85"/><circle cx="640.2" cy="337.2" r="2.85"/><circle cx="636.4" cy="337" r="2.85"/><circle cx="642.2" cy="337.4" r="2.85"/><circle cx="638.4" cy="337.9" r="2.85"/><circle cx="635.4" cy="337.9" r="2.85"/><circle cx="641" cy="338.2" r="2.85"/><circle cx="637.1" cy="338.8" r="2.85"/><circle cx="642.8" cy="338.8" r="2.85"/><circle cx="639.5" cy="339.8" r="2.85"/><circle cx="636" cy="339.8" r="2.85"/><circle cx="641.7" cy="340" r="2.85"/><circle cx="637.9" cy="339.9" r="2.85"/><circle cx="643.4" cy="340.5" r="2.85"/><circle cx="640.5" cy="340.8" r="2.85"/><circle cx="636.7" cy="341.3" r="2.85"/><circle cx="642.4" cy="341.7" r="2.85"/><circle cx="638.7" cy="342.3" r="2.85"/><circle cx="635.6" cy="342.7" r="2.85"/><circle cx="641.3" cy="342.6" r="2.85"/><circle cx="637.4" cy="342.8" r="2.85"/><circle cx="643.1" cy="343.4" r="2.85"/><circle cx="639.9" cy="344.1" r="2.85"/><circle cx="636.3" cy="343.7" r="2.85"/><circle cx="642" cy="344.2" r="2.85"/><circle cx="638.2" cy="344.9" r="2.85"/><circle cx="635.3" cy="344.5" r="2.85"/><circle cx="640.8" cy="345" r="2.85"/><circle cx="637" cy="346" r="2.85"/><circle cx="642.7" cy="346.2" r="2.85"/><circle cx="639.1" cy="346.2" r="2.85"/><circle cx="635.9" cy="346.1" r="2.85"/><circle cx="641.6" cy="347.2" r="2.85"/><circle cx="637.7" cy="347.3" r="2.85"/><circle cx="643.3" cy="347.8" r="2.85"/><circle cx="640.3" cy="348.3" r="2.85"/><circle cx="636.5" cy="348.5" r="2.85"/><circle cx="642.3" cy="348.4" r="2.85"/><circle cx="638.5" cy="348.4" r="2.85"/><circle cx="635.5" cy="348.9" r="2.85"/><circle cx="641.1" cy="349.5" r="2.85"/><circle cx="637.2" cy="349.8" r="2.85"/><circle cx="642.9" cy="349.8" r="2.85"/><circle cx="639.7" cy="350.1" r="2.85"/><circle cx="636.1" cy="350.9" r="2.85"/><circle cx="641.8" cy="351.2" r="2.85"/><circle cx="638" cy="351.3" r="2.85"/><circle cx="643.5" cy="352.2" r="2.85"/><circle cx="640.6" cy="352.2" r="2.85"/><circle cx="636.8" cy="351.9" r="2.85"/><circle cx="642.5" cy="352.6" r="2.85"/><circle cx="638.9" cy="353.3" r="2.85"/><circle cx="635.7" cy="353.2" r="2.85"/><circle cx="641.4" cy="353.8" r="2.85"/><circle cx="635.4" cy="362.2" r="2.85"/><circle cx="640.7" cy="363.6" r="2.85"/><circle cx="637" cy="364.1" r="2.85"/><circle cx="642.5" cy="365.1" r="2.85"/><circle cx="639" cy="365.4" r="2.85"/><circle cx="636" cy="366.6" r="2.85"/><circle cx="641.4" cy="367.5" r="2.85"/><circle cx="637.7" cy="368" r="2.85"/><circle cx="643.1" cy="369.2" r="2.85"/><circle cx="640.2" cy="370" r="2.85"/><circle cx="636.6" cy="371.3" r="2.85"/><circle cx="642.1" cy="371.7" r="2.85"/><circle cx="638.5" cy="372.4" r="2.85"/><circle cx="635.6" cy="372.9" r="2.85"/><circle cx="641" cy="373.8" r="2.85"/><circle cx="637.3" cy="375.2" r="2.85"/><circle cx="642.7" cy="375.4" r="2.85"/><circle cx="639.6" cy="376.3" r="2.85"/><circle cx="636.2" cy="377.2" r="2.85"/><circle cx="641.7" cy="378.4" r="2.85"/><circle cx="638" cy="379.5" r="2.85"/><circle cx="643.3" cy="380.1" r="2.85"/><circle cx="635.1" cy="399" r="2.85"/><circle cx="637.4" cy="398.5" r="2.85"/><circle cx="639.8" cy="398.5" r="2.85"/><circle cx="642.1" cy="399" r="2.85"/><circle cx="636.9" cy="401.4" r="2.85"/><circle cx="638.8" cy="401.6" r="2.85"/><circle cx="640.6" cy="401.4" r="2.85"/><circle cx="638.9" cy="403" r="2.85"/><circle cx="638.6" cy="403.1" r="2.85"/>
</g>
<g fill="none" stroke-width="3.5" stroke-linejoin="round" stroke-opacity="0.62">
<path d="M102.1 630.9L104.7 607.7L107.4 600.4L110 594.1L112.7 589L115.3 580.8L117.9 576.4L120.6 572.1L123.2 564.6L125.9 558.9L128.5 554.2L131.2 554.5L133.8 551.7L136.5 549.9L139.1 552.8L141.8 550.1L144.4 549.4L147.1 544.4L149.7 546.1L152.4 547.3L155 544.6L157.7 544.8L160.3 543L163 544.4L165.6 543.9L168.3 542L170.9 541.7L173.6 542L176.2 544.2L178.9 541.8L181.5 541L184.2 539.3L186.8 539.3L189.5 537.5L192.1 538.6L194.8 538.5L197.4 536.2L200.1 537.7L202.7 536.2L205.4 535.4L208 529.7L210.7 530.7L213.3 529.2L216 528L218.6 528.7L221.3 531L223.9 527.2L226.6 528L229.2 525.9L231.9 528.7L234.5 528.1L237.2 524.3L239.8 522.1L242.5 526.2L245.1 527.9L247.8 526L250.4 523.7L253 523.8L255.7 523.5L258.3 525.8L261 524.3L263.6 523L266.3 524.1L268.9 525.6L271.6 525.6L274.2 523.9L276.9 525.9L279.5 525L282.2 525.5L284.8 524.8L287.5 524.7L290.1 524.3L292.8 522.5L295.4 522.9L298.1 522.1L300.7 523.3L303.4 524.2L306 523.7L308.7 526.9L311.3 525.3L314 524.4L316.6 525.5L319.3 524.2L321.9 524.7L324.6 526.9L327.2 525.5L329.9 525.7L332.5 525.3L335.2 524.7L337.8 522.9L340.5 523.4L343.1 523.7L345.8 523.4L348.4 525.7L351.1 523.4L353.7 524.9L356.4 523.9L359 525.1L361.7 525.5L364.3 525.1L367 522.4L369.6 522.5L372.3 523.9L374.9 524.2L377.6 525.3L380.2 524.6L382.8 524.8L385.5 523.5L388.1 525.2L390.8 524.9L393.4 525.3L396.1 525.3L398.7 523.8L401.4 523.7L404 523.2L406.7 522.3L409.3 521.9L412 524.5L414.6 523.6L417.3 525.7L419.9 524.8L422.6 522.2L425.2 523.4L427.9 524.1L430.5 523.8L433.2 523.8L435.8 523.8L438.5 524.7L441.1 523.1L443.8 522.6L446.4 523.5L449.1 523.4L451.7 523L454.4 522.4L457 522.8L459.7 522.6L462.3 523.6L465 524.9L467.6 524.9L470.3 523.2L472.9 522.5L475.6 523.1L478.2 524.2L480.9 523.7L483.5 522L486.2 521.6L488.8 523.6L491.5 523.8L494.1 525.4L496.8 525.8L499.4 524.5L502.1 524.1L504.7 522.9L507.4 522L510 522L512.6 521.5L515.3 523.3L517.9 524.7L520.6 523.6L523.2 520.7L525.9 521.9L528.5 524L531.2 523.4L533.8 521.9L536.5 523.8L539.1 522.7L541.8 523.7L544.4 522.1L547.1 521.9L549.7 522.3L552.4 520.6L555 522.5L557.7 523.6L560.3 521.3L563 523.2L565.6 520.8L568.3 522L570.9 523.7L573.6 523.3L576.2 522.9L578.9 522.7L581.5 523L584.2 521.7L586.8 524.8L589.5 524.3L592.1 523.7L594.8 521.2L597.4 524.2L600.1 523.7L602.7 524.3L605.4 524.1L608 522.5L610.7 522.1L613.3 520.7L616 522.3L618.6 522.1L621.3 521L623.9 520.7L626.6 522L629.2 520.9" stroke="#a1c9f4"/>
<path d="M102.1 621.8L104.7 606.3L107.4 596.6L110 588.3L112.7 579.7L115.3 579.2L117.9 573.2L120.6 568.4L123.2 564.9L125.9 560.2L128.5 555.9L131.2 552.7L133.8 552.3L136.5 547.1L139.1 548.8L141.8 558.1L144.4 548.3L147.1 548.4L149.7 549.4L152.4 546.3L155 544.5L157.7 543.7L160.3 545.8L163 543.1L165.6 547.5L168.3 539.9L170.9 545L173.6 543.3L176.2 541.5L178.9 539.7L181.5 540L184.2 537.7L186.8 549.7L189.5 544L192.1 541.5L194.8 541L197.4 533.3L200.1 536.9L202.7 534.8L205.4 539.9L208 534.3L210.7 537.4L213.3 538.1L216 525.3L218.6 524.4L221.3 525.7L223.9 525.8L226.6 530.9L229.2 531.7L231.9 527.2L234.5 533.1L237.2 527.9L239.8 531.8L242.5 527.4L245.1 529.2L247.8 520.6L250.4 519.2L253 523.5L255.7 529.9L258.3 529.2L261 526.2L263.6 526.5L266.3 524.4L268.9 522.1L271.6 522.9L274.2 524L276.9 522.3L279.5 523.5L282.2 522L284.8 523.4L287.5 520.6L290.1 522.7L292.8 525.1L295.4 524L298.1 524.9L300.7 525.9L303.4 524.8L306 522.8L308.7 527.1L311.3 525.2L314 524.6L316.6 524.3L319.3 522.4L321.9 525.4L324.6 523.2L327.2 523.8L329.9 523.5L332.5 523.9L335.2 524.3L337.8 524.9L340.5 523.4L343.1 519.7L345.8 519.9L348.4 520.4L351.1 521.1L353.7 523.3L356.4 522.4L359 519.3L361.7 523.9L364.3 522.2L367 521.1L369.6 521.9L372.3 521.4L374.9 520.1L377.6 518L380.2 518.7L382.8 518.3L385.5 520.6L388.1 520.7L390.8 521.9L393.4 522.2L396.1 523.7L398.7 522.4L401.4 520.4L404 522.3L406.7 522.5L409.3 521.9L412 522.7L414.6 521.4L417.3 522.1L419.9 524.9L422.6 525.9L425.2 523.2L427.9 522.2L430.5 520.9L433.2 521.8L435.8 522.3L438.5 525.7L441.1 521.9L443.8 524.4L446.4 522L449.1 524.8L451.7 525.2L454.4 523.9L457 524.4L459.7 525.1L462.3 522.5L465 521.8L467.6 521.9L470.3 523.3L472.9 524.8L475.6 524.9L478.2 525L480.9 524.1L483.5 522.3L486.2 523.2L488.8 524.7L491.5 525L494.1 521.8L496.8 522.4L499.4 522.5L502.1 522.4L504.7 521.8L507.4 522.3L510 520.7L512.6 520.6L515.3 527L517.9 525.1L520.6 518.7L523.2 523.3L525.9 522.9L528.5 521L531.2 522L533.8 520.1L536.5 523.8L539.1 525.5L541.8 524.3L544.4 524.8L547.1 525.5L549.7 522.9L552.4 522.3L555 522.4L557.7 523.2L560.3 522.4L563 522.6L565.6 523.8L568.3 522.1L570.9 521.6L573.6 521.9L576.2 520.9L578.9 523.6L581.5 523.1L584.2 523.6L586.8 520.4L589.5 520.5L592.1 517.6L594.8 517.3L597.4 520.6L600.1 523.3L602.7 521.7L605.4 522.4L608 522.4L610.7 524L613.3 521.8L616 521.5L618.6 520.9L621.3 520.9L623.9 522.9L626.6 526.2L629.2 524.2" stroke="#a1c9f4" stroke-dasharray="10.7 4.6"/>
<path d="M102.1 642.4L104.7 621.4L107.4 615.2L110 608.3L112.7 605.3L115.3 602.9L117.9 597.7L120.6 596.1L123.2 594.1L125.9 591L128.5 588L131.2 586.8L133.8 584.2L136.5 583.8L139.1 581.6L141.8 579.4L144.4 578.9L147.1 577.9L149.7 576.7L152.4 573.5L155 571.4L157.7 570.1L160.3 568.5L163 568.9L165.6 566.9L168.3 565.1L170.9 563.4L173.6 564.2L176.2 563.6L178.9 565L181.5 563.3L184.2 564.2L186.8 563.2L189.5 559.2L192.1 561.1L194.8 557.8L197.4 556.9L200.1 557.1L202.7 556.1L205.4 555.5L208 554.4L210.7 555.3L213.3 556L216 556.2L218.6 556.6L221.3 555.4L223.9 555.8L226.6 553.6L229.2 556.2L231.9 556.3L234.5 556.1L237.2 557.4L239.8 552.9L242.5 556.2L245.1 555L247.8 554.6L250.4 551.6L253 554.7L255.7 552.2L258.3 553.2L261 552.8L263.6 552.9L266.3 551.9L268.9 552.6L271.6 552.1L274.2 551.5L276.9 550.1L279.5 552.4L282.2 550.6L284.8 550.2L287.5 550.9L290.1 550.6L292.8 551L295.4 549.6L298.1 549.9L300.7 550.3L303.4 550.4L306 550.4L308.7 550.3L311.3 550.7L314 548.8L316.6 550.6L319.3 552.5L321.9 550.9L324.6 550.2L327.2 549.4L329.9 549.4L332.5 549.3L335.2 548.9L337.8 548.2L340.5 548.8L343.1 549L345.8 547.4L348.4 547.6L351.1 548.7L353.7 546.8L356.4 547L359 547.9L361.7 548.7L364.3 548L367 548.4L369.6 548.7L372.3 548.9L374.9 548.4L377.6 547L380.2 547.4L382.8 548.2L385.5 547L388.1 546.9L390.8 546.2L393.4 545.6L396.1 546.2L398.7 546.4L401.4 546.4L404 547.1L406.7 546.1L409.3 545.1L412 545.4L414.6 545.8L417.3 545.9L419.9 546.3L422.6 546.4L425.2 546.1L427.9 546.3L430.5 546L433.2 546.6L435.8 545.5L438.5 545.1L441.1 545.7L443.8 546.7L446.4 545.6L449.1 544.2L451.7 544.8L454.4 544.8L457 544.9L459.7 544L462.3 544.6L465 543.5L467.6 543.9L470.3 543.1L472.9 543.3L475.6 543.6L478.2 544.5L480.9 544.3L483.5 543.8L486.2 542.9L488.8 542.8L491.5 543.3L494.1 542.7L496.8 542L499.4 542.4L502.1 542.7L504.7 542.8L507.4 541.9L510 541.7L512.6 542.5L515.3 541.9L517.9 542.2L520.6 542.5L523.2 541.1L525.9 540.8L528.5 541.6L531.2 541.4L533.8 541L536.5 541.5L539.1 541.3L541.8 540.6L544.4 542L547.1 541.1L549.7 540.3L552.4 540.1L555 541.2L557.7 540.5L560.3 540.9L563 540.1L565.6 539.6L568.3 539.6L570.9 540.3L573.6 540.4L576.2 539.4L578.9 540.1L581.5 539.4L584.2 539L586.8 539.3L589.5 537.5L592.1 538.3L594.8 537.1L597.4 539.4L600.1 540.6L602.7 538.8L605.4 538.2L608 538.5L610.7 538.4L613.3 539.6L616 539.2L618.6 539.3L621.3 538.7L623.9 537.6L626.6 537.6L629.2 537.3" stroke="#ffb482"/>
<path d="M102.1 636.1L104.7 615.9L107.4 609.3L110 603L112.7 597.7L115.3 595.4L117.9 590.6L120.6 592.2L123.2 589.5L125.9 588.8L128.5 587.6L131.2 584.6L133.8 581.2L136.5 578L139.1 575.3L141.8 569.2L144.4 568.7L147.1 572.8L149.7 570L152.4 569.6L155 568.7L157.7 564L160.3 564.5L163 567.9L165.6 564.1L168.3 563.2L170.9 564.4L173.6 564.1L176.2 562.9L178.9 560.8L181.5 560.3L184.2 558.7L186.8 553.8L189.5 556.8L192.1 557.7L194.8 556.6L197.4 553.3L200.1 555.5L202.7 551.8L205.4 555.9L208 557L210.7 555.3L213.3 556.1L216 555.8L218.6 553.3L221.3 551.4L223.9 551.9L226.6 552.9L229.2 549.8L231.9 550.4L234.5 552L237.2 549.6L239.8 552.9L242.5 552.1L245.1 550.6L247.8 551.3L250.4 552.7L253 551.3L255.7 552.5L258.3 553.1L261 553.2L263.6 550.4L266.3 551.2L268.9 549.5L271.6 549.6L274.2 550.3L276.9 549.5L279.5 549.6L282.2 549.7L284.8 551.5L287.5 550.6L290.1 549.1L292.8 548.9L295.4 548.1L298.1 547.2L300.7 547.9L303.4 546.4L306 549.8L308.7 549.7L311.3 552.4L314 549.5L316.6 549.1L319.3 546.9L321.9 548.3L324.6 550.9L327.2 548.1L329.9 549.9L332.5 550.5L335.2 549.5L337.8 548L340.5 548.6L343.1 548L345.8 550.2L348.4 546.8L351.1 547.3L353.7 547.3L356.4 546.7L359 546.9L361.7 546.9L364.3 548.1L367 547.7L369.6 546.8L372.3 545.6L374.9 546.4L377.6 546.4L380.2 546.1L382.8 545.6L385.5 545.8L388.1 546.4L390.8 546.9L393.4 545.1L396.1 545.3L398.7 545.6L401.4 541.6L404 542.8L406.7 543.3L409.3 544.3L412 546.1L414.6 544.3L417.3 544.9L419.9 545L422.6 543.8L425.2 543.2L427.9 543.8L430.5 544.3L433.2 542L435.8 542.7L438.5 544.8L441.1 543.7L443.8 543.8L446.4 543.9L449.1 543.2L451.7 543.3L454.4 541.2L457 542.3L459.7 542.7L462.3 541.8L465 543.3L467.6 542.1L470.3 542.8L472.9 541.6L475.6 543.4L478.2 542.6L480.9 544.6L483.5 544.1L486.2 543.3L488.8 542.3L491.5 540L494.1 539.1L496.8 542.4L499.4 543.1L502.1 541L504.7 541L507.4 543.1L510 541.7L512.6 543L515.3 543.2L517.9 543.7L520.6 542.7L523.2 539.2L525.9 539.8L528.5 540.6L531.2 537.8L533.8 540L536.5 540.6L539.1 540.9L541.8 540.2L544.4 540.7L547.1 538.7L549.7 539.9L552.4 539.3L555 539.4L557.7 540.7L560.3 541.4L563 540.5L565.6 542.7L568.3 540.9L570.9 540L573.6 539.4L576.2 539.4L578.9 538.8L581.5 539.3L584.2 538.3L586.8 540.5L589.5 538.4L592.1 539.6L594.8 538.4L597.4 538.9L600.1 539.1L602.7 539.5L605.4 537.2L608 538.9L610.7 539.8L613.3 538.4L616 537.7L618.6 537.6L621.3 538.7L623.9 538.7L626.6 536.9L629.2 538.3" stroke="#ffb482" stroke-dasharray="10.7 4.6"/>
</g>
<g stroke="#262626" fill="none">
<path d="M76 514.2V647.6H656.5" stroke-width="1.05" stroke="#3a3a3a"/>
<path d="M68.4 535.3H76M68.4 574.7H76M68.4 614.1H76M115.3 647.6V655.2M247.8 647.6V655.2M380.2 647.6V655.2M512.6 647.6V655.2M618.6 647.6V655.2" stroke-width="1.7"/>
<path d="M115.3 514.2V647.6M618.6 514.2V647.6" stroke="#585858" stroke-width="1.7" stroke-dasharray="6.05 2.72" stroke-dashoffset="2.05"/>
</g>
<text x="62.7" y="540.5" font-size="14" fill="#262626" stroke="#262626" stroke-width="0.14" letter-spacing="0.3" text-anchor="end" >0.8</text>
<text x="62.7" y="579.9" font-size="14" fill="#262626" stroke="#262626" stroke-width="0.14" letter-spacing="0.3" text-anchor="end" >0.6</text>
<text x="62.7" y="619.3" font-size="14" fill="#262626" stroke="#262626" stroke-width="0.14" letter-spacing="0.3" text-anchor="end" >0.4</text>
<text x="115.5" y="672.1" font-size="14" fill="#262626" stroke="#262626" stroke-width="0.14" letter-spacing="0.3" text-anchor="middle" >5</text>
<text x="247.9" y="672.1" font-size="14" fill="#262626" stroke="#262626" stroke-width="0.14" letter-spacing="0.3" text-anchor="middle" >55</text>
<text x="380.3" y="672.1" font-size="14" fill="#262626" stroke="#262626" stroke-width="0.14" letter-spacing="0.3" text-anchor="middle" >105</text>
<text x="512.8" y="672.1" font-size="14" fill="#262626" stroke="#262626" stroke-width="0.14" letter-spacing="0.3" text-anchor="middle" >155</text>
<text x="618.8" y="672.1" font-size="14" fill="#262626" stroke="#262626" stroke-width="0.14" letter-spacing="0.3" text-anchor="middle" >195</text>
<text x="366.1" y="693.5" font-size="15.4" fill="#262626" stroke="#262626" stroke-width="0.14" letter-spacing="0.2" text-anchor="middle" >Epoch</text>
<text transform="translate(29.5 581.5) rotate(-90)" font-size="15.4" fill="#262626" stroke="#262626" stroke-width="0.14" letter-spacing="0.2" text-anchor="middle">Validation Accuracy</text>
<text x="115.4" y="509.1" font-size="15.4" fill="#262626" stroke="#262626" stroke-width="0.14" letter-spacing="0.2" text-anchor="middle" >Start of Training</text>
<text x="618.7" y="510.4" font-size="15.4" fill="#262626" stroke="#262626" stroke-width="0.14" letter-spacing="0.2" text-anchor="middle" >After Training</text>
<text x="177.4" y="529.8" font-size="11.8" fill="#5c9ee8" stroke="#5c9ee8" stroke-width="0.1" letter-spacing="0.12" text-anchor="middle" font-weight="bold">A</text>
<text x="185.1" y="581.3" font-size="11.8" fill="#ffb482" stroke="#ffb482" stroke-width="0.1" letter-spacing="0.12" text-anchor="middle" font-weight="bold">B</text>
<text x="225.2" y="583.4" font-size="12.6" fill="#262626" stroke="#262626" stroke-width="0.2" letter-spacing="0.2" text-anchor="start" >Network Type</text>
<path d="M225.2 585.9H313.5M363.6 585.9H403.4" stroke="#262626" stroke-width="1"/>
<path d="M227.8 597.7H253.3" stroke="#a1c9f4" stroke-width="3.4" stroke-linecap="round" stroke-opacity="0.8"/>
<path d="M227.8 617.1H253.3" stroke="#ffb482" stroke-width="3.4" stroke-linecap="round" stroke-opacity="0.8"/>
<text x="264.7" y="602.5" font-size="12.6" fill="#262626" stroke="#262626" stroke-width="0.2" letter-spacing="0.2" text-anchor="start" >Hybrid</text>
<text x="264.7" y="621.8" font-size="12.6" fill="#262626" stroke="#262626" stroke-width="0.2" letter-spacing="0.2" text-anchor="start" >Classical</text>
<text x="363.6" y="583.4" font-size="12.6" fill="#262626" stroke="#262626" stroke-width="0.2" letter-spacing="0.2" text-anchor="start" >Metric</text>
<path d="M366.2 597.7H391.6" stroke="#8a8a8a" stroke-width="3.4" stroke-linecap="round"/>
<path d="M366 617.1H378.8M383.2 617.1H392.4" stroke="#8a8a8a" stroke-width="3.4"/>
<text x="403.4" y="602.5" font-size="12.6" fill="#262626" stroke="#262626" stroke-width="0.2" letter-spacing="0.2" text-anchor="start" >Training</text>
<text x="403.4" y="621.8" font-size="12.6" fill="#262626" stroke="#262626" stroke-width="0.2" letter-spacing="0.2" text-anchor="start" >Validation</text>
<text x="485.2" y="628.5" font-size="11.9" fill="#111" stroke="#111" stroke-width="0.2"><tspan fill="#6aa8ec" stroke="none">120</tspan>/<tspan fill="#ffb482" stroke="none">124</tspan><tspan dx="-1.4"> Parameters</tspan></text>
<text x="486.2" y="641.8" font-size="12" fill="#111" stroke="#111" stroke-width="0.3" style="font-family:'DejaVu Serif','Liberation Serif',serif">1 Layer 2 Qumodes</text>
</svg></body></html>
